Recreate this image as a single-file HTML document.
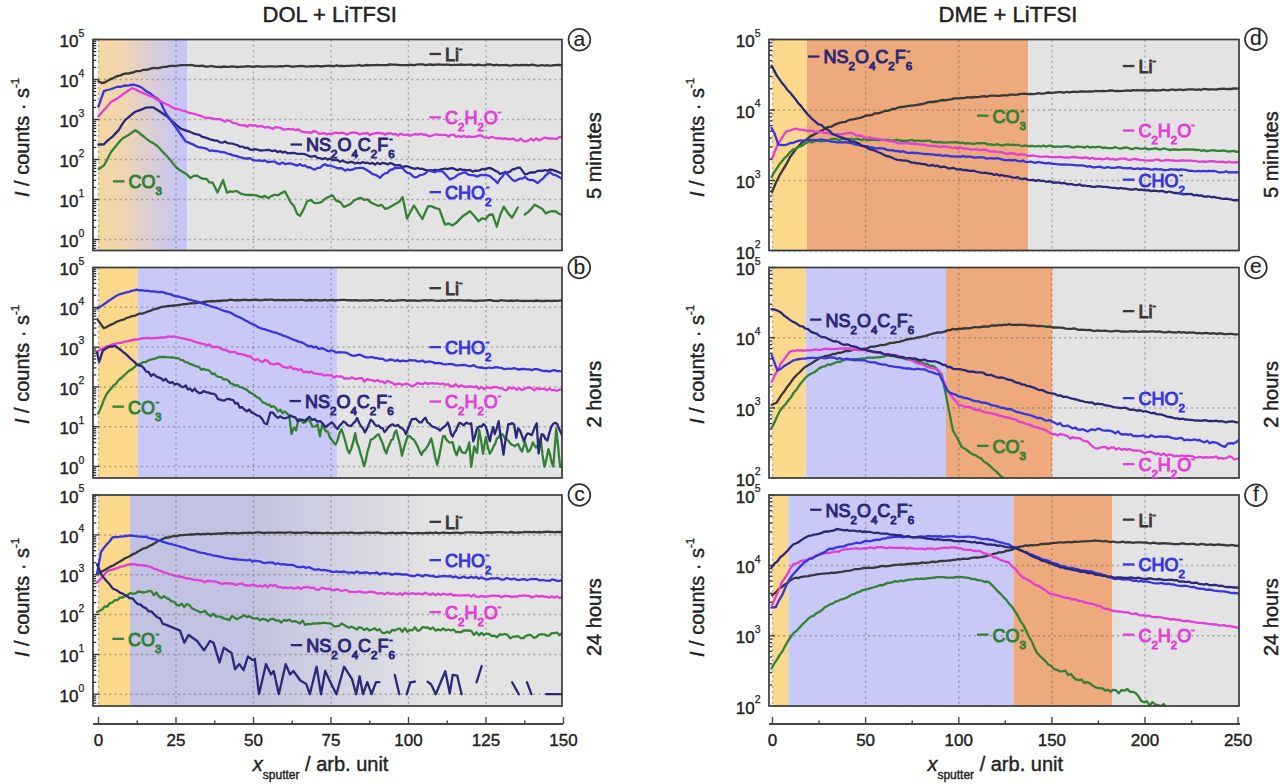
<!DOCTYPE html><html><head><meta charset="utf-8"><style>html,body{margin:0;padding:0;background:#fff;width:1280px;height:784px;overflow:hidden}svg{display:block}</style></head><body>
<svg width="1280" height="784" viewBox="0 0 1280 784" font-family='"Liberation Sans", sans-serif'>
<defs>
<clipPath id="c00"><rect x="93" y="39.5" width="469" height="211.0"/></clipPath>
<clipPath id="c01"><rect x="93" y="267.5" width="469" height="210.5"/></clipPath>
<clipPath id="c02"><rect x="93" y="495" width="469" height="211"/></clipPath>
<clipPath id="c10"><rect x="769" y="39.5" width="470" height="211.0"/></clipPath>
<clipPath id="c11"><rect x="769" y="267.5" width="470" height="210.5"/></clipPath>
<clipPath id="c12"><rect x="769" y="495" width="470" height="211"/></clipPath>
<linearGradient id="ga" x1="0" x2="1" y1="0" y2="0"><stop offset="0" stop-color="#f5d89e"/><stop offset="0.3" stop-color="#eed5b2"/><stop offset="0.6" stop-color="#dacdd6"/><stop offset="0.88" stop-color="#c9c7f2"/><stop offset="1" stop-color="#c4c4f8"/></linearGradient>
<linearGradient id="gc" x1="0" x2="1" y1="0" y2="0"><stop offset="0" stop-color="#c2c2e2"/><stop offset="1" stop-color="#e3e3e3"/></linearGradient>
</defs>
<text x="329.7" y="21.6" font-size="22" text-anchor="middle" fill="#222" stroke="#222" stroke-width="0.45">DOL + LiTFSI</text>
<text x="1007.9" y="21.6" font-size="22" text-anchor="middle" fill="#222" stroke="#222" stroke-width="0.45">DME + LiTFSI</text>
<rect x="93" y="39.5" width="469" height="211.0" fill="#fbfbfb"/>
<rect x="98.5" y="39.5" width="89" height="211.0" fill="url(#ga)"/>
<rect x="187.5" y="39.5" width="374.5" height="211.0" fill="#e3e3e3"/>
<line x1="98.5" y1="239.5" x2="562" y2="239.5" stroke="#555" stroke-opacity="0.42" stroke-width="1.5" stroke-dasharray="2.2 3.1"/>
<line x1="98.5" y1="199.5" x2="562" y2="199.5" stroke="#555" stroke-opacity="0.42" stroke-width="1.5" stroke-dasharray="2.2 3.1"/>
<line x1="98.5" y1="159.5" x2="562" y2="159.5" stroke="#555" stroke-opacity="0.42" stroke-width="1.5" stroke-dasharray="2.2 3.1"/>
<line x1="98.5" y1="119.5" x2="562" y2="119.5" stroke="#555" stroke-opacity="0.42" stroke-width="1.5" stroke-dasharray="2.2 3.1"/>
<line x1="98.5" y1="79.5" x2="562" y2="79.5" stroke="#555" stroke-opacity="0.42" stroke-width="1.5" stroke-dasharray="2.2 3.1"/>
<line x1="98.5" y1="39.5" x2="98.5" y2="250.5" stroke="#555" stroke-opacity="0.42" stroke-width="1.4" stroke-dasharray="2.2 3.1"/>
<line x1="176" y1="39.5" x2="176" y2="250.5" stroke="#555" stroke-opacity="0.42" stroke-width="1.4" stroke-dasharray="2.2 3.1"/>
<line x1="253.5" y1="39.5" x2="253.5" y2="250.5" stroke="#555" stroke-opacity="0.42" stroke-width="1.4" stroke-dasharray="2.2 3.1"/>
<line x1="331" y1="39.5" x2="331" y2="250.5" stroke="#555" stroke-opacity="0.42" stroke-width="1.4" stroke-dasharray="2.2 3.1"/>
<line x1="408.5" y1="39.5" x2="408.5" y2="250.5" stroke="#555" stroke-opacity="0.42" stroke-width="1.4" stroke-dasharray="2.2 3.1"/>
<line x1="486" y1="39.5" x2="486" y2="250.5" stroke="#555" stroke-opacity="0.42" stroke-width="1.4" stroke-dasharray="2.2 3.1"/>
<path d="M98.4 81.3 L102 83 L104.7 82.5 L107.3 81.1 L110 79.3 L112.7 78.3 L115.3 76.9 L118 75.9 L120.5 75.4 L123.1 74.1 L125.6 73.5 L128.2 73.7 L130.7 72.8 L133.3 72.5 L135.8 71.2 L138.4 71.1 L140.9 70.8 L143.5 69.7 L146 69.8 L148.5 69.5 L151.1 68.3 L153.6 68 L156.2 68.2 L158.7 68.2 L161.3 67.4 L163.8 66.9 L166.4 66.8 L168.9 66.1 L171.5 65.9 L174 65.8 L176.6 65.8 L179.2 65.4 L181.8 65.2 L184.4 65.1 L187 65.2 L189.6 65.1 L192.3 65 L194.9 65.9 L197.5 65.8 L200.2 66 L202.8 65.6 L205.5 66.6 L208.1 66.6 L210.7 66 L213.4 66.3 L216 66.8 L218.6 66.8 L221.2 67 L223.8 66.5 L226.5 66.9 L229.1 66.8 L231.7 66.4 L234.3 66.7 L236.9 67 L239.5 66.9 L242.2 66.6 L244.8 66.7 L247.4 66.1 L250 66.3 L252.6 66.9 L255.1 66.5 L257.7 66.2 L260.2 66.6 L262.8 66.7 L265.3 66.7 L267.9 66.3 L270.4 66.4 L273 66.4 L275.5 66.7 L278.1 66.4 L280.6 66.2 L283.2 66.3 L285.7 65.8 L288.3 65.8 L290.8 66.5 L293.4 66.7 L295.9 66.3 L298.5 66.1 L301 65.9 L303.6 66.2 L306.1 66.6 L308.7 66.4 L311.2 66.1 L313.8 66.4 L316.3 65.8 L318.9 66.1 L321.4 66.5 L324 66.1 L326.5 65.9 L329.1 65.7 L331.6 65.9 L334.1 66.3 L336.7 65.3 L339.2 66 L341.7 66 L344.3 66.1 L346.8 65.9 L349.3 65.9 L351.9 65.6 L354.4 65.6 L356.9 65.4 L359.5 65 L362 65.8 L364.5 65.4 L367.1 65 L369.6 65.3 L372.1 65.2 L374.7 65.1 L377.2 65 L379.7 65.2 L382.3 65.2 L384.8 65.2 L387.3 65 L389.9 64.5 L392.4 64.6 L394.9 64.6 L397.5 64.9 L400 65.2 L402.5 65.1 L405.1 65.1 L407.6 65.1 L410.2 64.6 L412.7 65.2 L415.3 65 L417.8 64.4 L420.4 64.4 L422.9 64.4 L425.5 65.1 L428 64.6 L430.5 64.5 L433.1 65 L435.6 64.7 L438.2 64.5 L440.7 64.6 L443.3 64.9 L445.8 64.6 L448.4 64.7 L450.9 65.1 L453.5 64.9 L456 64.8 L458.5 64.9 L461.1 64.5 L463.6 64.8 L466.2 64.9 L468.7 64.7 L471.3 64.6 L473.8 65.4 L476.4 65 L478.9 64.7 L481.5 65.1 L484 65.3 L486.5 64.5 L489 64.5 L491.5 64.7 L494.1 65.3 L496.6 64.7 L499.1 65.3 L501.6 65.2 L504.1 65.1 L506.6 64.8 L509.2 65.6 L511.7 65.4 L514.2 65.1 L516.7 64.8 L519.2 65.3 L521.7 65 L524.3 65.2 L526.8 65 L529.3 65.3 L531.8 64.7 L534.3 65 L536.8 65.7 L539.4 65.6 L541.9 65 L544.4 65.6 L546.9 65.1 L549.4 65.7 L551.9 65.5 L554.5 65.2 L557 65 L559.5 64.8 L562 65.3" fill="none" stroke="#383838" stroke-width="2.3" stroke-linejoin="round" stroke-linecap="round" clip-path="url(#c00)"/>
<path d="M98.4 144.5 L101.2 144.5 L104 144.3 L106.7 141.4 L109.3 139.1 L112 137.2 L115.3 133.6 L118.7 130.1 L121.8 124.9 L125 120.1 L127.5 118.1 L130 116 L132.5 113.8 L135 112 L137.8 110.8 L140.5 109.8 L143.2 108.8 L146 107.6 L149.5 107.3 L153 107.3 L155.8 109 L158.6 110.7 L161.4 112.5 L164.2 114.6 L167 116.3 L169.8 118.8 L172.6 121.7 L175.4 124 L178.2 126.5 L181 128.8 L183.6 129.6 L186.2 130.6 L188.9 131.4 L191.5 132.5 L194.1 133.7 L196.8 134.4 L199.4 134.9 L202 136.8 L204.6 137.4 L207.2 138.1 L209.8 139.3 L212.3 139.9 L214.9 140.7 L217.5 140.7 L220 142.4 L222.5 142.7 L225 141.5 L227.5 143.1 L230 143.4 L232.5 143.6 L235 144.5 L237.5 145.1 L240 146.7 L242.5 146.6 L245 148 L247.5 147.7 L250 149.5 L252.5 149.8 L255 149.1 L257.5 149.6 L260 150.5 L262.5 150.3 L265 150.1 L267.5 149.8 L270 150.2 L272.5 151.2 L275 150.3 L277.5 152.1 L280 151.1 L282.5 152.6 L285 151.7 L287.5 153.3 L290 153.1 L292.5 152.9 L295 153.2 L297.5 153.8 L300 153.9 L302.5 153.9 L305 154.2 L307.5 155.3 L310 156.6 L312.5 156.5 L315 155.9 L317.5 157.9 L320 158.2 L322.5 159.1 L325 158.1 L327.5 159.6 L330 158.6 L332.5 160.2 L335 159.8 L337.5 160.1 L340 161.8 L342.5 160.6 L345 161.8 L347.5 162.8 L350 162 L352.5 162 L355 163.5 L357.5 162.7 L360 163.4 L362.5 162.2 L365 163 L367.5 162.7 L370 163.8 L372.5 162.8 L375 164.7 L377.5 162.8 L380 164.2 L382.5 162.8 L385 163.3 L387.5 164.4 L390 163.1 L392.5 163.7 L395 165.3 L397.5 165.2 L400 165.1 L402.5 167.4 L405 166.1 L407.5 166.3 L410 167.3 L412.5 168.2 L415 168.9 L417.5 168 L420 168.9 L422.5 168.7 L425 169.9 L427.5 170.4 L430 170.2 L432.5 170.4 L435 170 L437.5 170.1 L440 169.7 L442.5 169.1 L445 168.5 L447.5 169.2 L450 168.4 L452.5 168.2 L455 169.1 L457.5 170.2 L460 168.9 L462.5 170 L465 169.9 L467.5 170.4 L470 169.8 L472.5 171.7 L475 170.5 L477.5 170.8 L480 170.1 L482.5 168.9 L485 169.6 L487.5 168.4 L490 167.9 L492.5 169.1 L495 170.6 L497.5 171.7 L500 174 L502.5 173 L505 173.2 L507.5 172.3 L510 171.6 L512.5 169.3 L515 169 L517.5 167.8 L520 167.7 L522.5 170.9 L525 174.4 L527.5 173.8 L530 172.5 L532.5 172.5 L535 172.3 L537.5 170.9 L540 170.6 L542.5 170.9 L545 170 L547.5 170.8 L550 169.5 L553 170.1 L556 171.2 L559 172.3 L562 173.8" fill="none" stroke="#2a2878" stroke-width="2.3" stroke-linejoin="round" stroke-linecap="round" clip-path="url(#c00)"/>
<path d="M98.4 106.6 L101.2 98.6 L104 91 L106.8 90.1 L109.6 89.5 L112.4 88.7 L115.2 87.5 L118 86.7 L120.6 86.8 L123.2 86 L125.8 85.5 L128.3 85.6 L130.9 84.8 L133.5 84.6 L136.2 85.3 L139 86.3 L141.8 87.7 L144.5 89.8 L147.2 91.7 L150 93.2 L152.5 95.3 L155 97.2 L157.5 98.8 L160 101.2 L163 107.4 L166 113.5 L168.7 117.1 L171.3 121.3 L174 124.8 L176.9 129 L179.8 133.2 L182.7 137.2 L185.6 141.5 L188.3 142.3 L190.9 143.7 L193.6 144.7 L196.3 146.2 L198.9 147.3 L201.6 147.5 L204.3 148.1 L206.9 148.8 L209.6 150.8 L212.2 150.3 L214.9 151.2 L217.5 151 L220.2 152 L222.8 152.2 L225.5 152.7 L228.2 153.8 L230.9 154.4 L233.7 155.7 L236.4 155.9 L239.1 157.1 L241.8 157.5 L244.6 158.5 L247.3 158.5 L250 158.1 L252.5 159.8 L255 160.4 L257.5 160.7 L260 160.4 L262.5 161.1 L265 160.4 L267.5 162 L270 161.9 L272.5 161.7 L275 161.6 L277.5 163.5 L280 164 L282.5 162.4 L285 164.1 L287.5 163.6 L290 163.3 L292.5 163.8 L295 165 L297.5 165.5 L300 164.1 L302.5 165.9 L305 165.3 L307.5 167.3 L310 167.2 L312.5 168.9 L315 169.7 L317.5 167.8 L320 167.9 L322.5 165.6 L325 164.2 L327.5 165.8 L330 165.3 L332.5 166.3 L335 167.3 L337.5 168.3 L340 168.1 L342.5 168.5 L345 170.7 L347.5 169.3 L350 170.2 L352.5 169.7 L355 168.3 L357.5 168.1 L360 167.9 L362.5 167.8 L365 169.1 L367.5 170.5 L370 172 L372.5 174.1 L375 174.7 L377.5 175.9 L380 177.9 L382.5 175.1 L385 173.4 L387.5 172.8 L390 170 L392.5 169.5 L395 167.8 L397.5 168 L400 167.7 L402.5 168.2 L405 171.1 L407.5 172.8 L410 173.3 L412.5 176.1 L415 177.4 L417.5 176.8 L420 175.1 L422.5 174.8 L425 173.8 L427.5 171.3 L430 170.4 L432.5 171.6 L435 172.2 L437.5 170.8 L440 171.2 L442.5 171.4 L445 173.8 L447.5 176.8 L450 179.6 L452.5 178.2 L455 177.2 L457.5 175.1 L460 173.8 L462.5 173 L465 172.3 L467.5 174.1 L470 175.2 L472.5 175.1 L475 175.7 L477.5 176.6 L480 175.2 L482.5 174.9 L485 175.1 L487.5 175.4 L490 176.1 L492.5 178.4 L495 180.3 L497.5 183.2 L500 179 L502.5 176.5 L505 171.8 L507.5 174.4 L510 177.2 L512.5 179.8 L515 181.2 L517.5 179.8 L520 178.6 L522.5 178.5 L525 176.9 L527.5 179.1 L530 180.2 L532.5 179.9 L535 181.1 L537.5 183.1 L540 180.8 L542.5 179.1 L545 176.2 L547.5 173.8 L550 172.1 L553 174.7 L556 175.2 L559 176.9 L562 178.8" fill="none" stroke="#3636dc" stroke-width="2.3" stroke-linejoin="round" stroke-linecap="round" clip-path="url(#c00)"/>
<path d="M98.4 116.4 L100.9 113.4 L103.4 110.6 L106 107.9 L108.5 105 L111 102.1 L113.6 100.6 L116.2 99.1 L118.9 97.3 L121.5 95.5 L124.1 93.4 L126.8 91.8 L129.4 89.9 L132 88.1 L134.8 89.2 L137.6 90.4 L140.4 92 L143.2 93.1 L146 94.2 L148.8 95.6 L151.6 96.6 L154.4 98.1 L157.2 99.7 L160 101.1 L162.8 102.6 L165.6 104 L168.4 105 L171.2 106.7 L174 108.1 L176.8 108.8 L179.6 109.5 L182.4 110.5 L185.2 111.1 L188 112.5 L190.6 113.1 L193.2 113.6 L195.9 114.2 L198.5 115.2 L201.1 115.9 L203.8 117.3 L206.4 117.9 L209 117.8 L211.6 118.1 L214.2 119.1 L216.9 119.2 L219.5 119.1 L222.1 120 L224.8 121.7 L227.4 120.4 L230 120.9 L232.9 123.2 L235.8 123.2 L238.7 124.7 L241.6 125.4 L244.4 125.1 L247.2 126.7 L250 124.8 L252.6 125.6 L255.1 125.3 L257.7 126.6 L260.2 126 L262.8 126.5 L265.3 127.7 L267.9 126.9 L270.4 127.8 L273 128.9 L275.5 127.2 L278.1 127.4 L280.6 128 L283.2 129.6 L285.7 129.5 L288.3 128.9 L290.8 129.3 L293.4 129.2 L295.9 130.2 L298.5 129.4 L301 131.3 L303.6 132 L306.1 132.4 L308.7 132.2 L311.2 133 L313.8 131 L316.3 131.9 L318.9 133.8 L321.4 133.6 L324 133 L326.5 134.3 L329.1 133.6 L331.6 134.1 L334.2 132.9 L336.7 132.7 L339.3 133.3 L341.8 132.6 L344.4 133.3 L346.9 134.7 L349.5 133.2 L352 132.5 L354.5 132.6 L357.1 133 L359.6 134.5 L362.2 133.5 L364.7 133.4 L367.3 133 L369.8 135.1 L372.4 133.8 L374.9 133.3 L377.5 133 L380 133.1 L382.5 133.4 L385.1 134.6 L387.6 133.4 L390.2 133.2 L392.7 134.3 L395.3 133.8 L397.8 135.6 L400.4 133.6 L402.9 134.6 L405.5 135.2 L408 134.4 L410.5 135.8 L413.1 134.7 L415.6 134.2 L418.1 134.6 L420.7 133.8 L423.2 134.8 L425.7 134.4 L428.3 136 L430.8 136 L433.3 135.2 L435.9 134.2 L438.4 134.8 L440.9 134.8 L443.5 134.8 L446 134.9 L448.5 136.5 L451.1 134.8 L453.6 134.7 L456.1 136.8 L458.7 136 L461.2 137.1 L463.7 135.8 L466.3 137 L468.8 136.5 L471.3 136.9 L473.9 136.8 L476.4 136.3 L478.9 135.4 L481.5 135.7 L484 137.4 L486.6 137.7 L489.2 138 L491.9 136.8 L494.5 137.8 L497.1 138.4 L499.8 138.2 L502.4 138.9 L505 138.4 L507.6 139 L510.2 139.3 L512.9 138.5 L515.5 140.3 L518.1 140.6 L520.8 138.7 L523.4 141.1 L526 141.3 L528.6 140.4 L531.1 138.7 L533.7 140.6 L536.3 138.5 L538.9 140.3 L541.4 139.4 L544 137.7 L546.6 137.8 L549.1 138.7 L551.7 138.4 L554.3 138.6 L556.9 138.8 L559.4 136.9 L562 137.4" fill="none" stroke="#e23ed8" stroke-width="2.3" stroke-linejoin="round" stroke-linecap="round" clip-path="url(#c00)"/>
<path d="M98.8 169 L104.3 165.1 L107.5 158.8 L110.7 152.5 L113.9 148.6 L117.1 144.5 L120.3 140.7 L123.3 138 L126.3 136.2 L129.4 134.4 L132.4 132.2 L135.4 130.2 L138.4 132.2 L141.4 134.8 L144.4 137 L147.4 139.6 L150.6 141.8 L153.8 143.6 L157 145.8 L160.2 149 L163.3 152.6 L166.5 155.7 L170 159.5 L173.4 164.1 L176.9 168 L180.3 170.5 L183.7 172.4 L187 174.5 L190.4 178.1 L193.6 175.9 L196.8 175.6 L200 177.6 L203.2 178.9 L206.3 178.8 L209.5 182.4 L212.7 182.7 L217.5 192.5 L223 180.1 L227 192.7 L230.2 191.4 L233.4 191.7 L236.6 191 L241.4 193.9 L245.7 194.8 L250 195 L253 195.2 L256 195.3 L259 196.3 L262 197.4 L265 195.9 L268 198.2 L271.4 196.1 L274.8 194.8 L278.1 195.2 L281.5 193.1 L284.9 191.4 L287.9 197 L290.9 202.7 L294 205.9 L297 213.7 L300 215.9 L303.5 209.6 L307 201.5 L310.8 200 L314.7 203.2 L318.5 202.9 L322 201.8 L325.6 198.3 L329.1 196.7 L332.6 195.3 L336.3 200.9 L340.1 201.9 L343.8 206.8 L347.2 205.6 L350.5 204 L353.9 200.6 L357.2 198.9 L360.6 197.8 L364.1 199.9 L367.6 199.3 L371.1 202.6 L374.6 204.2 L378.1 205.8 L381.6 204.8 L385.2 208.9 L388.7 207.8 L392.2 205.7 L395.7 203.7 L399.2 201.8 L402.7 197.2 L407 218.6 L410.5 211.8 L414 205.4 L418.2 212.5 L422.4 219 L428 206.2 L431.8 206.4 L435.5 208.1 L439.3 209 L445 224.7 L448.7 223.4 L452.3 225.4 L456 223.1 L459.5 219.5 L463 215.9 L466.5 213.8 L470 211.3 L474.2 215.8 L478.5 221.3 L482 218.4 L485.6 219.2 L489.1 214.8 L492.6 214.5 L496.8 226.7 L500.3 214.7 L503.8 206.7 L507.9 213 L512 217.7 L517.8 207.5" fill="none" stroke="#348036" stroke-width="2.3" stroke-linejoin="round" stroke-linecap="round" clip-path="url(#c00)"/>
<path d="M524.8 214.5 L528.1 212.1 L531.3 208.9 L534.6 204.7 L538.4 206.8 L542.1 208.7 L545.9 213.5 L549.4 211.6 L552.9 211.1 L555.9 211.3 L559 213.9 L562 214.5" fill="none" stroke="#348036" stroke-width="2.3" stroke-linejoin="round" stroke-linecap="round" clip-path="url(#c00)"/>
<line x1="93" y1="248.4" x2="96.2" y2="248.4" stroke="#333" stroke-width="1.3"/>
<line x1="93" y1="245.7" x2="96.2" y2="245.7" stroke="#333" stroke-width="1.3"/>
<line x1="93" y1="243.4" x2="96.2" y2="243.4" stroke="#333" stroke-width="1.3"/>
<line x1="93" y1="241.3" x2="96.2" y2="241.3" stroke="#333" stroke-width="1.3"/>
<line x1="93" y1="239.5" x2="99" y2="239.5" stroke="#333" stroke-width="1.3"/>
<line x1="93" y1="227.5" x2="96.2" y2="227.5" stroke="#333" stroke-width="1.3"/>
<line x1="93" y1="220.4" x2="96.2" y2="220.4" stroke="#333" stroke-width="1.3"/>
<line x1="93" y1="215.4" x2="96.2" y2="215.4" stroke="#333" stroke-width="1.3"/>
<line x1="93" y1="211.5" x2="96.2" y2="211.5" stroke="#333" stroke-width="1.3"/>
<line x1="93" y1="208.4" x2="96.2" y2="208.4" stroke="#333" stroke-width="1.3"/>
<line x1="93" y1="205.7" x2="96.2" y2="205.7" stroke="#333" stroke-width="1.3"/>
<line x1="93" y1="203.4" x2="96.2" y2="203.4" stroke="#333" stroke-width="1.3"/>
<line x1="93" y1="201.3" x2="96.2" y2="201.3" stroke="#333" stroke-width="1.3"/>
<line x1="93" y1="199.5" x2="99" y2="199.5" stroke="#333" stroke-width="1.3"/>
<line x1="93" y1="187.5" x2="96.2" y2="187.5" stroke="#333" stroke-width="1.3"/>
<line x1="93" y1="180.4" x2="96.2" y2="180.4" stroke="#333" stroke-width="1.3"/>
<line x1="93" y1="175.4" x2="96.2" y2="175.4" stroke="#333" stroke-width="1.3"/>
<line x1="93" y1="171.5" x2="96.2" y2="171.5" stroke="#333" stroke-width="1.3"/>
<line x1="93" y1="168.4" x2="96.2" y2="168.4" stroke="#333" stroke-width="1.3"/>
<line x1="93" y1="165.7" x2="96.2" y2="165.7" stroke="#333" stroke-width="1.3"/>
<line x1="93" y1="163.4" x2="96.2" y2="163.4" stroke="#333" stroke-width="1.3"/>
<line x1="93" y1="161.3" x2="96.2" y2="161.3" stroke="#333" stroke-width="1.3"/>
<line x1="93" y1="159.5" x2="99" y2="159.5" stroke="#333" stroke-width="1.3"/>
<line x1="93" y1="147.5" x2="96.2" y2="147.5" stroke="#333" stroke-width="1.3"/>
<line x1="93" y1="140.4" x2="96.2" y2="140.4" stroke="#333" stroke-width="1.3"/>
<line x1="93" y1="135.4" x2="96.2" y2="135.4" stroke="#333" stroke-width="1.3"/>
<line x1="93" y1="131.5" x2="96.2" y2="131.5" stroke="#333" stroke-width="1.3"/>
<line x1="93" y1="128.4" x2="96.2" y2="128.4" stroke="#333" stroke-width="1.3"/>
<line x1="93" y1="125.7" x2="96.2" y2="125.7" stroke="#333" stroke-width="1.3"/>
<line x1="93" y1="123.4" x2="96.2" y2="123.4" stroke="#333" stroke-width="1.3"/>
<line x1="93" y1="121.3" x2="96.2" y2="121.3" stroke="#333" stroke-width="1.3"/>
<line x1="93" y1="119.5" x2="99" y2="119.5" stroke="#333" stroke-width="1.3"/>
<line x1="93" y1="107.5" x2="96.2" y2="107.5" stroke="#333" stroke-width="1.3"/>
<line x1="93" y1="100.4" x2="96.2" y2="100.4" stroke="#333" stroke-width="1.3"/>
<line x1="93" y1="95.4" x2="96.2" y2="95.4" stroke="#333" stroke-width="1.3"/>
<line x1="93" y1="91.5" x2="96.2" y2="91.5" stroke="#333" stroke-width="1.3"/>
<line x1="93" y1="88.4" x2="96.2" y2="88.4" stroke="#333" stroke-width="1.3"/>
<line x1="93" y1="85.7" x2="96.2" y2="85.7" stroke="#333" stroke-width="1.3"/>
<line x1="93" y1="83.4" x2="96.2" y2="83.4" stroke="#333" stroke-width="1.3"/>
<line x1="93" y1="81.3" x2="96.2" y2="81.3" stroke="#333" stroke-width="1.3"/>
<line x1="93" y1="79.5" x2="99" y2="79.5" stroke="#333" stroke-width="1.3"/>
<line x1="93" y1="67.5" x2="96.2" y2="67.5" stroke="#333" stroke-width="1.3"/>
<line x1="93" y1="60.4" x2="96.2" y2="60.4" stroke="#333" stroke-width="1.3"/>
<line x1="93" y1="55.4" x2="96.2" y2="55.4" stroke="#333" stroke-width="1.3"/>
<line x1="93" y1="51.5" x2="96.2" y2="51.5" stroke="#333" stroke-width="1.3"/>
<line x1="93" y1="48.4" x2="96.2" y2="48.4" stroke="#333" stroke-width="1.3"/>
<line x1="93" y1="45.7" x2="96.2" y2="45.7" stroke="#333" stroke-width="1.3"/>
<line x1="93" y1="43.4" x2="96.2" y2="43.4" stroke="#333" stroke-width="1.3"/>
<line x1="93" y1="41.3" x2="96.2" y2="41.3" stroke="#333" stroke-width="1.3"/>
<line x1="93" y1="39.5" x2="99" y2="39.5" stroke="#333" stroke-width="1.3"/>
<rect x="93" y="39.5" width="469" height="211.0" fill="none" stroke="#3a3a3a" stroke-width="1.7"/>
<text x="59.6" y="247.1" font-size="17" fill="#222" stroke="#222" stroke-width="0.4">10</text>
<text x="78.6" y="236.7" font-size="10.5" fill="#222" stroke="#222" stroke-width="0.25">0</text>
<text x="59.6" y="207.1" font-size="17" fill="#222" stroke="#222" stroke-width="0.4">10</text>
<text x="78.6" y="196.7" font-size="10.5" fill="#222" stroke="#222" stroke-width="0.25">1</text>
<text x="59.6" y="167.1" font-size="17" fill="#222" stroke="#222" stroke-width="0.4">10</text>
<text x="78.6" y="156.7" font-size="10.5" fill="#222" stroke="#222" stroke-width="0.25">2</text>
<text x="59.6" y="127.1" font-size="17" fill="#222" stroke="#222" stroke-width="0.4">10</text>
<text x="78.6" y="116.7" font-size="10.5" fill="#222" stroke="#222" stroke-width="0.25">3</text>
<text x="59.6" y="87.1" font-size="17" fill="#222" stroke="#222" stroke-width="0.4">10</text>
<text x="78.6" y="76.7" font-size="10.5" fill="#222" stroke="#222" stroke-width="0.25">4</text>
<text x="59.6" y="47.1" font-size="17" fill="#222" stroke="#222" stroke-width="0.4">10</text>
<text x="78.6" y="36.7" font-size="10.5" fill="#222" stroke="#222" stroke-width="0.25">5</text>
<rect x="429.5" y="52.8" width="11.5" height="2.3" fill="#383838"/>
<text x="445" y="60.8" font-size="18" font-weight="normal" fill="#383838" stroke="#383838" stroke-width="1.0"><tspan font-size="18" dy="0">Li</tspan><tspan font-size="10" dy="-9">-</tspan></text>
<rect x="429.5" y="116.2" width="11.5" height="2.3" fill="#e23ed8"/>
<text x="445" y="124.2" font-size="18" font-weight="normal" fill="#e23ed8" stroke="#e23ed8" stroke-width="1.0"><tspan font-size="18" dy="0">C</tspan><tspan font-size="11.5" dy="7">2</tspan><tspan font-size="18" dy="-7">H</tspan><tspan font-size="11.5" dy="7">2</tspan><tspan font-size="18" dy="-7">O</tspan><tspan font-size="10" dy="-9">-</tspan></text>
<rect x="290.5" y="143.4" width="11.5" height="2.3" fill="#2a2878"/>
<text x="306" y="151.4" font-size="18" font-weight="normal" fill="#2a2878" stroke="#2a2878" stroke-width="1.0"><tspan font-size="18" dy="0">NS</tspan><tspan font-size="11.5" dy="7">2</tspan><tspan font-size="18" dy="-7">O</tspan><tspan font-size="11.5" dy="7">4</tspan><tspan font-size="18" dy="-7">C</tspan><tspan font-size="11.5" dy="7">2</tspan><tspan font-size="18" dy="-7">F</tspan><tspan font-size="11.5" dy="7">6</tspan><tspan font-size="10" dy="-16" dx="-5.5">-</tspan></text>
<rect x="429.5" y="191" width="11.5" height="2.3" fill="#3636dc"/>
<text x="445" y="199" font-size="18" font-weight="normal" fill="#3636dc" stroke="#3636dc" stroke-width="1.0"><tspan font-size="18" dy="0">CHO</tspan><tspan font-size="11.5" dy="7">2</tspan><tspan font-size="10" dy="-16" dx="-5.5">-</tspan></text>
<rect x="113" y="180.2" width="11.5" height="2.3" fill="#348036"/>
<text x="128.5" y="188.2" font-size="18" font-weight="normal" fill="#348036" stroke="#348036" stroke-width="1.0"><tspan font-size="18" dy="0">CO</tspan><tspan font-size="11.5" dy="7">3</tspan><tspan font-size="10" dy="-16" dx="-5.5">-</tspan></text>
<rect x="93" y="267.5" width="469" height="210.5" fill="#fbfbfb"/>
<rect x="98.5" y="267.5" width="39.2" height="210.5" fill="#fcd88c"/>
<rect x="137.7" y="267.5" width="199.3" height="210.5" fill="#c9c9f8"/>
<rect x="337" y="267.5" width="225" height="210.5" fill="#e3e3e3"/>
<line x1="98.5" y1="466.5" x2="562" y2="466.5" stroke="#555" stroke-opacity="0.42" stroke-width="1.5" stroke-dasharray="2.2 3.1"/>
<line x1="98.5" y1="426.7" x2="562" y2="426.7" stroke="#555" stroke-opacity="0.42" stroke-width="1.5" stroke-dasharray="2.2 3.1"/>
<line x1="98.5" y1="386.9" x2="562" y2="386.9" stroke="#555" stroke-opacity="0.42" stroke-width="1.5" stroke-dasharray="2.2 3.1"/>
<line x1="98.5" y1="347.1" x2="562" y2="347.1" stroke="#555" stroke-opacity="0.42" stroke-width="1.5" stroke-dasharray="2.2 3.1"/>
<line x1="98.5" y1="307.3" x2="562" y2="307.3" stroke="#555" stroke-opacity="0.42" stroke-width="1.5" stroke-dasharray="2.2 3.1"/>
<line x1="98.5" y1="267.5" x2="98.5" y2="478" stroke="#555" stroke-opacity="0.42" stroke-width="1.4" stroke-dasharray="2.2 3.1"/>
<line x1="176" y1="267.5" x2="176" y2="478" stroke="#555" stroke-opacity="0.42" stroke-width="1.4" stroke-dasharray="2.2 3.1"/>
<line x1="253.5" y1="267.5" x2="253.5" y2="478" stroke="#555" stroke-opacity="0.42" stroke-width="1.4" stroke-dasharray="2.2 3.1"/>
<line x1="331" y1="267.5" x2="331" y2="478" stroke="#555" stroke-opacity="0.42" stroke-width="1.4" stroke-dasharray="2.2 3.1"/>
<line x1="408.5" y1="267.5" x2="408.5" y2="478" stroke="#555" stroke-opacity="0.42" stroke-width="1.4" stroke-dasharray="2.2 3.1"/>
<line x1="486" y1="267.5" x2="486" y2="478" stroke="#555" stroke-opacity="0.42" stroke-width="1.4" stroke-dasharray="2.2 3.1"/>
<path d="M97.4 319.3 L100.5 323.7 L103.6 328.2 L106.1 327.3 L108.7 325.8 L111.2 324.6 L113.7 323.5 L116.3 321.9 L118.8 321 L121.3 320.2 L123.9 319.5 L126.4 318 L129 317.3 L131.5 316.2 L134.1 315.9 L136.6 315 L139.3 313.6 L142 313.6 L144.6 312.8 L147.3 311.7 L150 310.9 L152.7 309.7 L155.4 308.8 L158 308.4 L160.7 307.2 L163.4 306.6 L165.9 306.3 L168.5 305.8 L171 305.8 L173.6 305.5 L176.1 305.5 L178.7 304.9 L181.2 304.7 L183.7 304.2 L186.3 304 L188.8 303.6 L191.4 303.1 L193.9 303.3 L196.5 303 L199 302.6 L201.6 302.3 L204.2 301.8 L206.8 301.5 L209.3 301.4 L211.9 301 L214.5 301.4 L217.1 300.9 L219.7 301 L222.2 300.5 L224.8 300.7 L227.4 300.5 L230 299.6 L232.5 299.8 L235 300.3 L237.5 300 L240 300.4 L242.5 299.9 L245 299.7 L247.5 300.1 L250 300.2 L252.5 299.8 L255 299.7 L257.5 299.9 L260 300.4 L262.5 300.2 L265 299.7 L267.5 299.8 L270 299.7 L272.5 299.7 L275 300.3 L277.5 299.8 L280 300.1 L282.5 300 L285 299.8 L287.5 300.3 L290 299.8 L292.5 300.2 L295 299.8 L297.5 300.1 L300 299.9 L302.5 299.9 L305 300.5 L307.5 300.4 L310 300 L312.5 300.5 L315 299.9 L317.5 300.1 L320 300.5 L322.5 300.3 L325 299.9 L327.5 300.6 L330 300 L332.5 300 L335 300.5 L337.5 300.1 L340 300.1 L342.5 299.9 L345 299.9 L347.5 300.3 L350 300.1 L352.5 300.4 L355 300.2 L357.5 300.3 L360 300.7 L362.5 300.3 L365 300.4 L367.5 300.6 L370 300.1 L372.5 300.1 L375 300.7 L377.5 300.6 L380 300.2 L382.5 300.1 L385 300.6 L387.5 300.8 L390 300.2 L392.5 300.8 L395 300.7 L397.5 300.5 L400 300.4 L402.5 300.1 L405 300.1 L407.5 300.8 L410 300.3 L412.5 300.6 L415 300.3 L417.5 300.8 L420 300.6 L422.5 300.3 L425.1 300.2 L427.6 300.7 L430.1 300.2 L432.7 300.3 L435.2 300.6 L437.8 300.8 L440.3 300.6 L442.8 300.4 L445.4 300.9 L447.9 300.3 L450.4 300.2 L453 300.4 L455.5 300.5 L458 300.2 L460.6 300.3 L463.1 300.5 L465.6 300.6 L468.2 300.3 L470.7 300.5 L473.2 300.9 L475.8 301 L478.3 300.7 L480.9 300.7 L483.4 300.7 L485.9 300.3 L488.5 300.2 L491 300.2 L493.5 300.9 L496.1 300.8 L498.6 301 L501.1 300.2 L503.7 300.7 L506.2 300.6 L508.8 300.8 L511.3 300.5 L513.8 301 L516.4 300.3 L518.9 300.7 L521.4 300.8 L524 301 L526.5 300.8 L529 300.8 L531.6 300.9 L534.1 301 L536.6 300.5 L539.2 300.8 L541.7 301 L544.2 301 L546.8 300.6 L549.3 300.9 L551.9 301 L554.4 300.7 L556.9 300.8 L559.5 300.6 L562 300.7" fill="none" stroke="#383838" stroke-width="2.3" stroke-linejoin="round" stroke-linecap="round" clip-path="url(#c01)"/>
<path d="M97.4 308.6 L100.1 306.8 L102.7 305.1 L105.4 303.3 L108.1 301.2 L110.8 299.4 L113.4 297.8 L116.1 295.9 L118.8 294.5 L121.3 293.8 L123.9 293.1 L126.4 292.4 L129 291.8 L131.5 290.9 L134.1 290.4 L136.6 289.6 L139.3 290.3 L142 290.1 L144.6 290.8 L147.3 290.6 L150 291.3 L152.7 291.3 L155.4 291.6 L158 292.2 L160.7 291.9 L163.4 292.2 L165.9 293.4 L168.5 293.9 L171 294.4 L173.6 295.6 L176.1 296.3 L178.7 296.5 L181.2 297.4 L183.7 297.9 L186.3 298.7 L188.8 299.6 L191.4 300 L193.9 301 L196.5 301.3 L199 302.1 L201.6 303.3 L204.2 303.9 L206.8 304.8 L209.3 305.8 L211.9 306.5 L214.5 307.3 L217.1 308 L219.7 309.2 L222.2 310.2 L224.8 311.1 L227.4 311.7 L230 312.4 L232.5 313.7 L235 315.2 L237.5 316.5 L240 317.4 L242.5 318.8 L245 320.2 L247.5 321.5 L250 323 L252.5 324.1 L255 325.1 L257.5 326.9 L260 328 L262.6 328.8 L265.1 329.4 L267.7 330.3 L270.3 331.1 L272.9 332.1 L275.4 332.5 L278 333.5 L280.5 334.3 L283.1 335.7 L285.6 336.3 L288.2 337.4 L290.7 338.5 L293.3 339.7 L295.8 340.4 L298.4 341.6 L300.9 342.1 L303.5 343.2 L306 344.7 L308.5 346.3 L311.1 346 L313.6 347.5 L316.2 346.6 L318.7 348.8 L321.3 348.3 L323.8 348.6 L326.4 350.4 L328.9 351.3 L331.5 350.2 L334 351.3 L336.5 352.7 L339.1 352.2 L341.6 352.4 L344.2 352.3 L346.7 352.8 L349.3 354.3 L351.8 355.4 L354.4 355.9 L356.9 355.2 L359.5 354.7 L362 355.6 L364.5 357 L367.1 357.4 L369.6 357.4 L372.2 357 L374.7 358 L377.3 358.2 L379.8 358.9 L382.4 358.6 L384.9 360.3 L387.5 360.6 L390 359.5 L392.5 359.8 L395 361.1 L397.5 360 L400 361.4 L402.5 360.6 L405 361 L407.5 361.1 L410 360.2 L412.5 360.4 L415 360.4 L417.5 361.3 L420 361.4 L422.6 360.5 L425.1 362.3 L427.7 361.6 L430.2 361.5 L432.8 362.1 L435.4 363.4 L437.9 362.9 L440.5 363.2 L443 364.1 L445.6 364.4 L448.2 364.2 L450.7 363.8 L453.3 364.4 L455.8 365.3 L458.4 365.3 L461 365.1 L463.5 364.9 L466.1 365.2 L468.6 366.2 L471.2 366.1 L473.8 365.2 L476.3 366.9 L478.9 367.5 L481.4 367.5 L484 368 L486.5 368.2 L489 367.5 L491.5 368.2 L494.1 367.5 L496.6 367.1 L499.1 367.7 L501.6 367.8 L504.1 369.2 L506.6 368.8 L509.2 368.6 L511.7 368.9 L514.2 368.1 L516.7 369 L519.2 369.5 L521.7 369 L524.3 368.9 L526.8 369.3 L529.3 369.3 L531.8 370.1 L534.3 369.2 L536.8 369.2 L539.4 369.8 L541.9 370.7 L544.4 371 L546.9 370.9 L549.4 371.6 L551.9 370.6 L554.5 370.1 L557 371.1 L559.5 371.2 L562 371.4" fill="none" stroke="#3636dc" stroke-width="2.3" stroke-linejoin="round" stroke-linecap="round" clip-path="url(#c01)"/>
<path d="M97 351.8 L100.3 349.6 L103.5 348.1 L106.8 346.2 L109.4 345.8 L111.9 344.5 L114.5 344 L117.1 343.3 L119.7 342.8 L122.2 342.7 L124.8 341.5 L127.4 341.4 L130 340.5 L132.5 340 L135.1 339.5 L137.7 339.3 L140.3 338.9 L142.9 338.1 L145.5 338.2 L148.1 337.9 L150.7 338.4 L153.3 338.2 L155.8 338 L158.4 337.8 L161 337.5 L163.6 337.5 L166.2 337.2 L168.8 336.4 L171.4 336.8 L174 336.3 L176.5 337.2 L179.1 337.6 L181.6 338.1 L184.2 338.7 L186.7 339.4 L189.3 339.9 L191.8 340.4 L194.4 341.7 L196.9 342.3 L199.5 343.1 L202 343.9 L204.5 344.2 L207.1 345.6 L209.6 344.4 L212.2 347 L214.7 347 L217.3 346.9 L219.8 347.8 L222.4 349.6 L224.9 349.5 L227.5 350.9 L230 352.1 L232.5 352.2 L235 352 L237.5 353.9 L240 353.8 L242.5 354.5 L245 355 L247.5 356.3 L250 356 L252.5 358.6 L255 360.3 L257.5 359.1 L260 360.9 L262.6 362.2 L265.1 359.9 L267.7 360.9 L270.3 363.6 L272.9 364.3 L275.4 364.2 L278 363.3 L280.5 364.8 L283.1 366.9 L285.6 367.5 L288.2 367.9 L290.7 366.6 L293.3 369.3 L295.8 368.5 L298.4 370.2 L300.9 369 L303.5 372.3 L306 371.7 L308.5 372.6 L311.1 371.5 L313.6 373.3 L316.2 373.7 L318.7 374.2 L321.3 374 L323.8 375.7 L326.4 375 L328.9 375.3 L331.5 375.4 L334 377.6 L336.5 376 L339.1 376.6 L341.6 376.4 L344.2 378.5 L346.7 378.5 L349.3 378.7 L351.8 377.3 L354.4 378.8 L356.9 378.8 L359.5 378.2 L362 378.2 L364.5 381.6 L367.1 379.1 L369.6 379.9 L372.2 380.1 L374.7 381.4 L377.3 380 L379.8 381.5 L382.4 381.4 L384.9 383.2 L387.5 380.8 L390 382.1 L392.5 382.9 L395 384.8 L397.5 383.7 L400 383.9 L402.5 384.9 L405 384 L407.5 383.6 L410 385.4 L412.5 386.1 L415 385 L417.5 382.8 L420 383.6 L422.6 384.3 L425.1 382.6 L427.7 383.9 L430.2 383.4 L432.8 383.2 L435.4 383.6 L437.9 383.5 L440.5 384.2 L443 383.4 L445.6 384.8 L448.2 384 L450.7 386.3 L453.3 386 L455.8 384.3 L458.4 387 L461 385.3 L463.5 386.5 L466.1 386.9 L468.6 386.4 L471.2 386.5 L473.8 387.2 L476.3 386.4 L478.9 388.9 L481.4 386.8 L484 389.2 L486.5 387.3 L489 387.7 L491.5 388 L494.1 386.9 L496.6 387.2 L499.1 388 L501.6 388.3 L504.1 389.8 L506.6 390.2 L509.2 387.2 L511.7 388.8 L514.2 387.6 L516.7 389.8 L519.2 388.3 L521.7 390.1 L524.3 389.1 L526.8 387.8 L529.3 387.4 L531.8 388.3 L534.3 390.3 L536.8 388 L539.4 389.1 L541.9 388.8 L544.4 388.8 L546.9 390.3 L549.4 388.5 L551.9 390.1 L554.5 390 L557 390.9 L559.5 389.6 L562 389.6" fill="none" stroke="#e23ed8" stroke-width="2.3" stroke-linejoin="round" stroke-linecap="round" clip-path="url(#c01)"/>
<path d="M98.2 413.6 L100.9 407.6 L103.6 400.6 L106.3 394.5 L108.8 391.2 L111.3 388.5 L113.8 385.3 L116.3 383.3 L118.8 379.8 L121 378.2 L123.2 376.3 L125.5 374 L127.7 372 L129.9 370.1 L132.2 369.1 L134.4 367.2 L136.6 364.9 L138.9 364.2 L141.3 363.3 L143.6 362.1 L145.9 362 L148.2 360.5 L150.6 359.7 L152.9 359.2 L155.2 358.7 L157.6 357.4 L159.9 357 L162.2 357 L164.5 357 L166.8 357.2 L169.1 357.3 L171.4 357.5 L173.7 357.5 L176 358.1 L178.3 358.2 L180.6 359.9 L182.9 360.2 L185.2 362.1 L187.5 362.4 L189.8 364 L192.1 364.4 L194.4 365.7 L196.7 366.3 L199 367 L201.2 369.9 L203.4 368.8 L205.7 369.9 L207.9 369.9 L210.1 371.4 L212.3 374.3 L214.5 373.4 L216.7 376.4 L219 376.9 L221.2 377.2 L223.4 379.3 L225.8 379.3 L228.1 380.2 L230.4 383.3 L232.8 384 L235.2 385.7 L237.5 385 L239.8 387 L242.2 387.7 L244.6 388.8 L246.9 389.9 L249.2 392.1 L251.6 393.2 L254.3 394.8 L257.1 397.3 L259.8 398.6 L262.5 402.1 L264.7 403.1 L266.9 404.3 L269.1 404.6 L271.4 406.8 L273.6 406.2 L275.8 408.1 L278 411.3 L280.3 409.6 L282.5 413.1 L284.8 411.5 L287 413.4 L289.3 415.6 L291.5 434 L293.8 427.6 L296.1 430.4 L298.5 419.1 L300.8 419.4 L303.1 423 L305.5 422.2 L307.8 419.1 L310.2 421.5 L312.5 426.6 L315 426.5 L317.5 424.3 L320 436.4 L321.9 425.4 L323.9 427.7 L325.9 431.4 L327.8 431.5 L329.8 437.3 L331.7 439.8 L333.7 442.4 L335.6 444.4 L337.6 440.4 L339.5 433.1 L341.5 429.2 L343.4 434.7 L345.4 441.5 L347.4 449.5 L349.3 453.2 L351.3 448.6 L353.2 442.2 L355.2 433.2 L357 442.7 L358.7 447 L360.5 453.6 L362.2 459 L364 466.2 L365.7 460.8 L367.4 451.8 L369.1 446.3 L370.8 439.6 L372.8 439 L374.7 437.3 L376.7 435.4 L378.6 434.1 L380.6 438.7 L382.5 443 L384.4 449.3 L386.4 453.5 L388 447.7 L389.7 444.3 L391.3 439.9 L392.9 439.5 L394.6 432.8 L396.2 430.4 L398.1 437.5 L400.1 445.3 L402 455.8 L404 447.5 L405.9 441.7 L407.9 435.9 L409.9 436.1 L411.8 438.5 L413.8 439.6 L415.8 442.9 L417.7 446.6 L419.7 451.7 L421.6 454.8 L423.2 451 L424.8 450.4 L426.5 447.6 L428.1 445.4 L429.7 441.8 L431.3 438.4 L433.3 447.2 L435.2 457.3 L437.2 464.8 L439.1 456.5 L441.1 446.1 L443 436.4 L444.6 436 L446.2 439.3 L447.8 441.2 L449.4 442.4 L451.1 442.7 L452.7 442.2 L454.6 450.4 L456.6 455.2 L459.5 446.7 L461.5 451.7 L463.4 452.8 L465.4 452.9 L467.4 449.3 L469.3 442.3 L471.2 466.8 L474.2 446.5 L477.1 453 L479.1 429.8 L481.1 440.5 L483 453.9 L485.9 436.8 L487.9 447.6 L489.8 453.7 L491.8 450.5 L493.7 446.1 L495.3 443.4 L497 438.2 L498.6 437.4 L500.2 434.6 L501.9 434.2 L503.5 435.6 L505.1 438.9 L506.8 439.4 L508.4 440.8 L511.3 444.5 L513 445.1 L514.7 446.3 L516.4 444.9 L518.1 443.9 L520 448.4 L522 451.6 L525 442 L527.9 451.9 L529.5 450.6 L531.2 447.5 L532.8 442.4 L534.4 445.2 L536.1 447.6 L537.7 445.4 L540.6 437.8 L542.5 454.9 L544.5 466.8 L546.5 459.1 L548.4 449.1 L550 454.3 L551.7 462.7 L553.3 466.5 L556.2 428.6 L558.2 447.4 L560.1 466.8 L563 466.8" fill="none" stroke="#348036" stroke-width="2.3" stroke-linejoin="round" stroke-linecap="round" clip-path="url(#c01)"/>
<path d="M97 352.3 L99.1 362.1 L102.7 350.8 L105.3 349 L108 347.2 L110.4 346.5 L112.8 346.5 L115.2 345.9 L117.9 348 L120.6 349.8 L122.9 351.9 L125.2 353.5 L127.5 355.7 L129.7 357.8 L132 359.9 L134.3 361.9 L136.6 364.1 L139 365.7 L141.4 365.7 L143.8 368.1 L146.2 371.7 L148.6 372 L151 376 L153.5 374.1 L156 376.2 L158.4 377.4 L160.9 378.1 L163.4 380.6 L165.6 378.8 L167.9 381.8 L170.1 382.9 L172.4 382 L174.6 384.5 L176.8 383.7 L179.1 384.6 L181.3 386.6 L183.5 387.1 L185.7 385.4 L187.9 389.5 L190.2 388.7 L192.4 391.2 L194.6 388.8 L196.8 391.4 L199 393 L201.4 392.9 L203.7 391 L206.1 392.1 L208.5 392.5 L210.9 393.6 L213.2 393.7 L215.6 394.8 L217.8 398.9 L220 399.7 L222.2 400.4 L224.4 400.5 L226.6 399.1 L228.8 398.9 L231 399.7 L233.2 400.2 L235.4 403.5 L237.6 403.1 L239.8 407.8 L242 407 L244.4 409.5 L246.8 411.4 L249.2 409.4 L251.6 412.5 L254.2 413.6 L256.8 415.4 L259.4 416 L261.9 418.6 L264.5 423.2 L267 424.3 L270.3 412.5 L272.9 412.7 L275.4 415.8 L278 417.9 L280.5 416.3 L283 418.2 L285.6 418.2 L288.1 417.2 L290.6 415.5 L293 416.8 L295.3 417.4 L297.6 421.1 L300 420.3 L302.4 419.7 L304.7 420.8 L307 418.9 L309.4 416.8 L312 419.9 L314.7 419.1 L317.4 421.6 L320 421.2 L322 422.7 L323.9 425.1 L325.9 427.1 L327.8 425.2 L329.8 423.9 L331.7 422.4 L333.7 424.1 L335.6 427.1 L337.6 429 L339.5 425.8 L341.5 423.9 L343.4 421.5 L345.4 422.5 L347.3 425 L349.3 425.6 L351.2 426 L353.2 423.4 L355.2 421.4 L357.1 418 L359.1 422.7 L361 426.2 L362.9 428.2 L364.9 432.4 L366.9 428.9 L368.8 424.4 L370.8 419.6 L372.8 421.5 L374.7 424.3 L376.7 425.8 L378.6 425.6 L380.6 427.8 L382.5 428.1 L384.5 432 L386.4 429.9 L388.4 427 L390.4 425.4 L392.3 424.1 L394.2 425.7 L396.1 425.8 L398.1 424.9 L400 427.4 L402 428.2 L404 430.1 L406 434.2 L407.9 429 L409.9 424 L411.8 419.2 L413.8 419.2 L415.7 418.7 L417.7 420.6 L419.6 422.3 L421.6 422.3 L423.5 419.5 L425.5 417.7 L427.4 422.3 L429.4 423.6 L431.4 425.9 L433.3 426.9 L435 427.3 L436.6 428.4 L438.3 428.9 L440 430.6 L442 428.4 L444 426.8 L445.9 425.3 L447.8 422.5 L449.4 426.8 L451.1 434.2 L452.7 436.5 L454.4 432.6 L456.1 430.3 L457.8 425.9 L459.5 422.9 L461.4 423.5 L463.4 425.3 L466.4 422.6 L468 423.5 L469.6 423.9 L471.2 423.4 L473.2 441.4 L474.8 437.2 L476.4 430.4 L478 427.4 L479.8 426.3 L481.5 426.7 L483.2 424.2 L485 425.4 L486.6 429.1 L488.2 435.4 L489.8 441.2 L491.5 433.1 L493.2 427.1 L494.7 434.1 L496.6 428.8 L498.6 421.2 L500.2 433.5 L501.9 443.3 L503.5 454.6 L505.1 442.6 L506.8 433.4 L508.4 424.2 L510.3 424.1 L512.3 423.1 L514.2 424.7 L516.2 437.8 L518.1 428.3 L520.1 430.8 L522 435.9 L524 441.4 L526 435.6 L527.9 433.3 L529.8 434.1 L531.8 435.1 L533.4 430.8 L535.1 426.5 L536.7 423.3 L538.6 453.4 L541.6 434.2 L543.5 434.9 L545.5 439.1 L547.4 440.5 L549.3 433.1 L551.3 426.9 L553.2 423.8 L555.2 422.8 L557.2 424 L559.1 428.8 L561 432.9 L563 437" fill="none" stroke="#2a2878" stroke-width="2.3" stroke-linejoin="round" stroke-linecap="round" clip-path="url(#c01)"/>
<line x1="93" y1="475.3" x2="96.2" y2="475.3" stroke="#333" stroke-width="1.3"/>
<line x1="93" y1="472.7" x2="96.2" y2="472.7" stroke="#333" stroke-width="1.3"/>
<line x1="93" y1="470.4" x2="96.2" y2="470.4" stroke="#333" stroke-width="1.3"/>
<line x1="93" y1="468.3" x2="96.2" y2="468.3" stroke="#333" stroke-width="1.3"/>
<line x1="93" y1="466.5" x2="99" y2="466.5" stroke="#333" stroke-width="1.3"/>
<line x1="93" y1="454.5" x2="96.2" y2="454.5" stroke="#333" stroke-width="1.3"/>
<line x1="93" y1="447.5" x2="96.2" y2="447.5" stroke="#333" stroke-width="1.3"/>
<line x1="93" y1="442.5" x2="96.2" y2="442.5" stroke="#333" stroke-width="1.3"/>
<line x1="93" y1="438.7" x2="96.2" y2="438.7" stroke="#333" stroke-width="1.3"/>
<line x1="93" y1="435.5" x2="96.2" y2="435.5" stroke="#333" stroke-width="1.3"/>
<line x1="93" y1="432.9" x2="96.2" y2="432.9" stroke="#333" stroke-width="1.3"/>
<line x1="93" y1="430.6" x2="96.2" y2="430.6" stroke="#333" stroke-width="1.3"/>
<line x1="93" y1="428.5" x2="96.2" y2="428.5" stroke="#333" stroke-width="1.3"/>
<line x1="93" y1="426.7" x2="99" y2="426.7" stroke="#333" stroke-width="1.3"/>
<line x1="93" y1="414.7" x2="96.2" y2="414.7" stroke="#333" stroke-width="1.3"/>
<line x1="93" y1="407.7" x2="96.2" y2="407.7" stroke="#333" stroke-width="1.3"/>
<line x1="93" y1="402.7" x2="96.2" y2="402.7" stroke="#333" stroke-width="1.3"/>
<line x1="93" y1="398.9" x2="96.2" y2="398.9" stroke="#333" stroke-width="1.3"/>
<line x1="93" y1="395.7" x2="96.2" y2="395.7" stroke="#333" stroke-width="1.3"/>
<line x1="93" y1="393.1" x2="96.2" y2="393.1" stroke="#333" stroke-width="1.3"/>
<line x1="93" y1="390.8" x2="96.2" y2="390.8" stroke="#333" stroke-width="1.3"/>
<line x1="93" y1="388.7" x2="96.2" y2="388.7" stroke="#333" stroke-width="1.3"/>
<line x1="93" y1="386.9" x2="99" y2="386.9" stroke="#333" stroke-width="1.3"/>
<line x1="93" y1="374.9" x2="96.2" y2="374.9" stroke="#333" stroke-width="1.3"/>
<line x1="93" y1="367.9" x2="96.2" y2="367.9" stroke="#333" stroke-width="1.3"/>
<line x1="93" y1="362.9" x2="96.2" y2="362.9" stroke="#333" stroke-width="1.3"/>
<line x1="93" y1="359.1" x2="96.2" y2="359.1" stroke="#333" stroke-width="1.3"/>
<line x1="93" y1="355.9" x2="96.2" y2="355.9" stroke="#333" stroke-width="1.3"/>
<line x1="93" y1="353.3" x2="96.2" y2="353.3" stroke="#333" stroke-width="1.3"/>
<line x1="93" y1="351" x2="96.2" y2="351" stroke="#333" stroke-width="1.3"/>
<line x1="93" y1="348.9" x2="96.2" y2="348.9" stroke="#333" stroke-width="1.3"/>
<line x1="93" y1="347.1" x2="99" y2="347.1" stroke="#333" stroke-width="1.3"/>
<line x1="93" y1="335.1" x2="96.2" y2="335.1" stroke="#333" stroke-width="1.3"/>
<line x1="93" y1="328.1" x2="96.2" y2="328.1" stroke="#333" stroke-width="1.3"/>
<line x1="93" y1="323.1" x2="96.2" y2="323.1" stroke="#333" stroke-width="1.3"/>
<line x1="93" y1="319.3" x2="96.2" y2="319.3" stroke="#333" stroke-width="1.3"/>
<line x1="93" y1="316.1" x2="96.2" y2="316.1" stroke="#333" stroke-width="1.3"/>
<line x1="93" y1="313.5" x2="96.2" y2="313.5" stroke="#333" stroke-width="1.3"/>
<line x1="93" y1="311.2" x2="96.2" y2="311.2" stroke="#333" stroke-width="1.3"/>
<line x1="93" y1="309.1" x2="96.2" y2="309.1" stroke="#333" stroke-width="1.3"/>
<line x1="93" y1="307.3" x2="99" y2="307.3" stroke="#333" stroke-width="1.3"/>
<line x1="93" y1="295.3" x2="96.2" y2="295.3" stroke="#333" stroke-width="1.3"/>
<line x1="93" y1="288.3" x2="96.2" y2="288.3" stroke="#333" stroke-width="1.3"/>
<line x1="93" y1="283.3" x2="96.2" y2="283.3" stroke="#333" stroke-width="1.3"/>
<line x1="93" y1="279.5" x2="96.2" y2="279.5" stroke="#333" stroke-width="1.3"/>
<line x1="93" y1="276.3" x2="96.2" y2="276.3" stroke="#333" stroke-width="1.3"/>
<line x1="93" y1="273.7" x2="96.2" y2="273.7" stroke="#333" stroke-width="1.3"/>
<line x1="93" y1="271.4" x2="96.2" y2="271.4" stroke="#333" stroke-width="1.3"/>
<line x1="93" y1="269.3" x2="96.2" y2="269.3" stroke="#333" stroke-width="1.3"/>
<line x1="93" y1="267.5" x2="99" y2="267.5" stroke="#333" stroke-width="1.3"/>
<rect x="93" y="267.5" width="469" height="210.5" fill="none" stroke="#3a3a3a" stroke-width="1.7"/>
<text x="59.6" y="474.1" font-size="17" fill="#222" stroke="#222" stroke-width="0.4">10</text>
<text x="78.6" y="463.7" font-size="10.5" fill="#222" stroke="#222" stroke-width="0.25">0</text>
<text x="59.6" y="434.3" font-size="17" fill="#222" stroke="#222" stroke-width="0.4">10</text>
<text x="78.6" y="423.9" font-size="10.5" fill="#222" stroke="#222" stroke-width="0.25">1</text>
<text x="59.6" y="394.5" font-size="17" fill="#222" stroke="#222" stroke-width="0.4">10</text>
<text x="78.6" y="384.1" font-size="10.5" fill="#222" stroke="#222" stroke-width="0.25">2</text>
<text x="59.6" y="354.7" font-size="17" fill="#222" stroke="#222" stroke-width="0.4">10</text>
<text x="78.6" y="344.3" font-size="10.5" fill="#222" stroke="#222" stroke-width="0.25">3</text>
<text x="59.6" y="314.9" font-size="17" fill="#222" stroke="#222" stroke-width="0.4">10</text>
<text x="78.6" y="304.5" font-size="10.5" fill="#222" stroke="#222" stroke-width="0.25">4</text>
<text x="59.6" y="275.1" font-size="17" fill="#222" stroke="#222" stroke-width="0.4">10</text>
<text x="78.6" y="264.7" font-size="10.5" fill="#222" stroke="#222" stroke-width="0.25">5</text>
<rect x="429.5" y="287" width="11.5" height="2.3" fill="#383838"/>
<text x="445" y="295" font-size="18" font-weight="normal" fill="#383838" stroke="#383838" stroke-width="1.0"><tspan font-size="18" dy="0">Li</tspan><tspan font-size="10" dy="-9">-</tspan></text>
<rect x="429.5" y="346" width="11.5" height="2.3" fill="#3636dc"/>
<text x="445" y="354" font-size="18" font-weight="normal" fill="#3636dc" stroke="#3636dc" stroke-width="1.0"><tspan font-size="18" dy="0">CHO</tspan><tspan font-size="11.5" dy="7">2</tspan><tspan font-size="10" dy="-16" dx="-5.5">-</tspan></text>
<rect x="429.5" y="400.4" width="11.5" height="2.3" fill="#e23ed8"/>
<text x="445" y="408.4" font-size="18" font-weight="normal" fill="#e23ed8" stroke="#e23ed8" stroke-width="1.0"><tspan font-size="18" dy="0">C</tspan><tspan font-size="11.5" dy="7">2</tspan><tspan font-size="18" dy="-7">H</tspan><tspan font-size="11.5" dy="7">2</tspan><tspan font-size="18" dy="-7">O</tspan><tspan font-size="10" dy="-9">-</tspan></text>
<rect x="289.5" y="399.9" width="11.5" height="2.3" fill="#2a2878"/>
<text x="305" y="407.9" font-size="18" font-weight="normal" fill="#2a2878" stroke="#2a2878" stroke-width="1.0"><tspan font-size="18" dy="0">NS</tspan><tspan font-size="11.5" dy="7">2</tspan><tspan font-size="18" dy="-7">O</tspan><tspan font-size="11.5" dy="7">4</tspan><tspan font-size="18" dy="-7">C</tspan><tspan font-size="11.5" dy="7">2</tspan><tspan font-size="18" dy="-7">F</tspan><tspan font-size="11.5" dy="7">6</tspan><tspan font-size="10" dy="-16" dx="-5.5">-</tspan></text>
<rect x="112.4" y="405.5" width="11.5" height="2.3" fill="#348036"/>
<text x="127.9" y="413.5" font-size="18" font-weight="normal" fill="#348036" stroke="#348036" stroke-width="1.0"><tspan font-size="18" dy="0">CO</tspan><tspan font-size="11.5" dy="7">3</tspan><tspan font-size="10" dy="-16" dx="-5.5">-</tspan></text>
<rect x="93" y="495" width="469" height="211" fill="#fbfbfb"/>
<rect x="98.5" y="495" width="31.5" height="211" fill="#fcd88c"/>
<rect x="130" y="495" width="122" height="211" fill="#c2c2e2"/>
<rect x="251.5" y="495" width="178.5" height="211" fill="url(#gc)"/>
<rect x="429.5" y="495" width="132.5" height="211" fill="#e3e3e3"/>
<line x1="98.5" y1="694.2" x2="562" y2="694.2" stroke="#555" stroke-opacity="0.42" stroke-width="1.5" stroke-dasharray="2.2 3.1"/>
<line x1="98.5" y1="654.4" x2="562" y2="654.4" stroke="#555" stroke-opacity="0.42" stroke-width="1.5" stroke-dasharray="2.2 3.1"/>
<line x1="98.5" y1="614.5" x2="562" y2="614.5" stroke="#555" stroke-opacity="0.42" stroke-width="1.5" stroke-dasharray="2.2 3.1"/>
<line x1="98.5" y1="574.7" x2="562" y2="574.7" stroke="#555" stroke-opacity="0.42" stroke-width="1.5" stroke-dasharray="2.2 3.1"/>
<line x1="98.5" y1="534.9" x2="562" y2="534.9" stroke="#555" stroke-opacity="0.42" stroke-width="1.5" stroke-dasharray="2.2 3.1"/>
<line x1="98.5" y1="495" x2="98.5" y2="706" stroke="#555" stroke-opacity="0.42" stroke-width="1.4" stroke-dasharray="2.2 3.1"/>
<line x1="176" y1="495" x2="176" y2="706" stroke="#555" stroke-opacity="0.42" stroke-width="1.4" stroke-dasharray="2.2 3.1"/>
<line x1="253.5" y1="495" x2="253.5" y2="706" stroke="#555" stroke-opacity="0.42" stroke-width="1.4" stroke-dasharray="2.2 3.1"/>
<line x1="331" y1="495" x2="331" y2="706" stroke="#555" stroke-opacity="0.42" stroke-width="1.4" stroke-dasharray="2.2 3.1"/>
<line x1="408.5" y1="495" x2="408.5" y2="706" stroke="#555" stroke-opacity="0.42" stroke-width="1.4" stroke-dasharray="2.2 3.1"/>
<line x1="486" y1="495" x2="486" y2="706" stroke="#555" stroke-opacity="0.42" stroke-width="1.4" stroke-dasharray="2.2 3.1"/>
<path d="M97 574 L99.6 572.3 L102.1 571.4 L104.7 570 L107.3 568.4 L109.8 566.9 L112.4 565.9 L114.9 564.5 L117.4 562.9 L119.9 561.5 L122.5 559.9 L125 558.3 L127.5 557.2 L130 556 L132.7 554.2 L135.3 553.3 L138 551.5 L140.7 550.1 L143.3 548.5 L146 547.9 L148.8 546.3 L151.6 545 L154.4 543.4 L157.3 541.5 L160.1 540.4 L162.9 539.1 L165.7 537.4 L168.5 537.6 L171.3 536.7 L174.1 536 L177 536.1 L179.8 535.1 L182.6 535.2 L185.2 534.8 L187.7 534.7 L190.3 534.5 L192.9 534.5 L195.4 534.1 L198 533.9 L200.6 534.4 L203.2 533.8 L205.7 534.2 L208.3 533.6 L210.9 534.1 L213.4 533.9 L216 533.7 L218.6 533.7 L221.2 533.5 L223.8 533.5 L226.4 533 L228.9 533.2 L231.5 533.4 L234.1 532.9 L236.7 533.4 L239.3 533.3 L241.9 532.9 L244.5 532.8 L247.1 532.8 L249.6 532.7 L252.2 533.2 L254.8 532.6 L257.4 532.3 L260 532.3 L262.5 532.8 L265 533 L267.5 532.6 L270 532.6 L272.5 532.7 L275 532.8 L277.5 532.4 L280 532.7 L282.5 532.7 L285 532.8 L287.5 532.4 L290 532.4 L292.5 532.6 L295 533 L297.5 532.6 L300 532.8 L302.5 532.6 L305 532.4 L307.5 532.4 L310 533 L312.5 533 L315 532.6 L317.5 532.9 L320 532.9 L322.5 533.1 L325 533.1 L327.5 532.7 L330 533.2 L332.5 533.2 L335 532.9 L337.5 533.1 L340 532.8 L342.5 532.7 L345 532.6 L347.5 533.1 L350 532.6 L352.5 532.5 L355 533.1 L357.5 533.1 L360 532.8 L362.5 533.1 L365 532.5 L367.5 532.7 L370 532.7 L372.5 532.8 L375 532.6 L377.5 532.5 L380 532.8 L382.5 533.2 L385 533.3 L387.5 533.1 L390 532.9 L392.5 532.7 L395 533.3 L397.5 533 L400 533.1 L402.5 532.6 L405 532.7 L407.5 533.2 L410 533.2 L412.5 533.3 L415 533.1 L417.5 532.9 L420 533.1 L422.5 533.3 L425.1 532.8 L427.6 533 L430.1 532.7 L432.7 533.1 L435.2 532.5 L437.8 533 L440.3 533.2 L442.8 532.5 L445.4 532.9 L447.9 532.9 L450.4 533.1 L453 532.8 L455.5 532.6 L458 532.7 L460.6 533.1 L463.1 533 L465.6 532.4 L468.2 532.3 L470.7 532.3 L473.2 532.2 L475.8 532.6 L478.3 532.3 L480.9 532.9 L483.4 532.7 L485.9 532.2 L488.5 532.5 L491 532.4 L493.5 532.5 L496.1 532.2 L498.6 532.2 L501.1 532.2 L503.7 532.3 L506.2 532.6 L508.8 532.4 L511.3 532 L513.8 532.5 L516.4 532.6 L518.9 532.5 L521.4 532.5 L524 531.9 L526.5 532.2 L529 531.9 L531.6 532.4 L534.1 531.9 L536.6 532.3 L539.2 532 L541.7 532.3 L544.2 532 L546.8 531.7 L549.3 532 L551.9 531.9 L554.4 532.4 L556.9 531.9 L559.5 532 L562 532" fill="none" stroke="#383838" stroke-width="2.3" stroke-linejoin="round" stroke-linecap="round" clip-path="url(#c02)"/>
<path d="M97 574 L101 552 L103.8 548 L106.7 544.4 L109.6 541.5 L112.4 537.5 L114.9 537.1 L117.4 537.1 L119.9 536.6 L122.5 536.6 L125 535.9 L127.5 536 L130 535.3 L132.7 535.7 L135.3 536.2 L138 536.3 L140.7 536.7 L143.3 536.9 L146 536.7 L148.5 537.9 L151.1 538.5 L153.6 539 L156.2 539.6 L158.7 540.7 L161.3 541.2 L163.8 542.2 L166.4 542.8 L168.9 543.6 L171.5 544 L174 544.8 L176.5 545.5 L179.1 546.1 L181.6 547.2 L184.2 547.6 L186.7 548.6 L189.3 549.5 L191.8 550.1 L194.4 550.5 L196.9 551.7 L199.5 552.3 L202 552.8 L204.5 553.2 L207.1 554.1 L209.6 554.3 L212.2 555.3 L214.7 555.6 L217.3 556.1 L219.8 556.6 L222.4 557.2 L224.9 557.9 L227.5 558.1 L230 558.6 L232.5 559 L235 559 L237.5 559.5 L240 559.7 L242.5 559.8 L245 560.2 L247.5 560.4 L250 559.7 L252.5 561.8 L255 560.7 L257.5 561.1 L260 561.3 L262.6 562.7 L265.1 563.1 L267.7 562.5 L270.2 562.7 L272.8 562.4 L275.3 564.3 L277.9 563.2 L280.4 564.3 L283 564.2 L285.5 564.5 L288.1 564.9 L290.6 564.9 L293.2 565 L295.7 566.3 L298.3 567.2 L300.8 567.2 L303.4 566.6 L305.9 568 L308.5 567 L311 568.1 L313.6 569.3 L316.1 569.8 L318.7 569.2 L321.2 570.3 L323.8 569.9 L326.3 570.3 L328.9 570.8 L331.4 571.9 L334 571.8 L336.5 571.4 L339.1 572 L341.6 572 L344.1 571.5 L346.6 572.5 L349.2 572.7 L351.7 572.4 L354.2 573.2 L356.8 571.5 L359.3 572.6 L361.8 573 L364.4 572.5 L366.9 572.3 L369.4 573.5 L371.9 573.1 L374.5 572.9 L377 572.5 L379.5 574.5 L382.1 573.4 L384.6 573.1 L387.1 573.4 L389.6 573.6 L392.2 574.9 L394.7 573.7 L397.2 574 L399.8 573.8 L402.3 574.7 L404.8 574.3 L407.4 574.7 L409.9 575.6 L412.4 576.1 L414.9 576 L417.5 574.6 L420 575.4 L422.6 576.4 L425.1 574.9 L427.7 575.3 L430.2 576 L432.8 575.9 L435.4 576.8 L437.9 576.8 L440.5 576.4 L443 576.1 L445.6 576.2 L448.2 576.4 L450.7 576.1 L453.3 577.4 L455.8 576.5 L458.4 578.1 L461 577.7 L463.5 576.6 L466.1 577.6 L468.6 577.9 L471.2 576.9 L473.8 577.9 L476.3 577.1 L478.9 578.7 L481.4 577.3 L484 578.7 L486.5 579.4 L489 579.2 L491.5 578.1 L494.1 578.7 L496.6 578 L499.1 578.5 L501.6 579.6 L504.1 579.5 L506.6 578 L509.2 578.8 L511.7 579.4 L514.2 578.5 L516.7 579.8 L519.2 580 L521.7 579.4 L524.3 579.1 L526.8 580.1 L529.3 579.5 L531.8 578.9 L534.3 579.2 L536.8 579 L539.4 580.4 L541.9 579.8 L544.4 580.3 L546.9 580.6 L549.4 580.9 L551.9 579.4 L554.5 579.9 L557 580.9 L559.5 580.8 L562 580.3" fill="none" stroke="#3636dc" stroke-width="2.3" stroke-linejoin="round" stroke-linecap="round" clip-path="url(#c02)"/>
<path d="M97 582.6 L100.3 579.2 L103.5 575.4 L106.8 571.6 L109.4 570.2 L112 569.8 L114.5 568.9 L117.1 568.2 L119.7 567.1 L122.3 566.4 L124.8 565.8 L127.4 564.9 L130 564.3 L132.7 564.2 L135.3 564.4 L138 565.2 L140.7 565.2 L143.3 565.5 L146 565.9 L148.5 566.5 L151.1 567.1 L153.6 568.6 L156.2 569.4 L158.7 570.3 L161.3 571.2 L163.8 572.4 L166.4 572.8 L168.9 574 L171.5 574.6 L174 575.7 L176.5 576.2 L179.1 576.5 L181.6 576.8 L184.2 577.6 L186.7 578.3 L189.3 578.7 L191.8 579.1 L194.4 579.8 L196.9 579.9 L199.5 580.4 L202 580.7 L204.5 582.3 L207.1 580.9 L209.6 581 L212.2 581.2 L214.7 581.3 L217.3 582.1 L219.8 583.2 L222.4 584.1 L224.9 583.1 L227.5 583.4 L230 583.5 L232.5 583.6 L235 585 L237.5 584.5 L240 583.8 L242.5 583.6 L245 585.4 L247.5 585.4 L250 585.8 L252.5 584.4 L255 585.3 L257.5 586.4 L260 585.6 L262.6 586.7 L265.1 584.8 L267.7 587.1 L270.2 584.8 L272.8 585.9 L275.3 585 L277.9 587.2 L280.4 587 L283 587.9 L285.5 587.6 L288.1 588.2 L290.6 587.2 L293.2 588.6 L295.7 588.1 L298.3 587.2 L300.8 589 L303.4 587.5 L305.9 587.2 L308.5 587 L311 588.2 L313.6 587.7 L316.1 589.7 L318.7 589.9 L321.2 588.1 L323.8 588 L326.3 589.2 L328.9 588.5 L331.4 589.6 L334 590.4 L336.5 589.1 L339.1 589.8 L341.6 591.2 L344.2 590.2 L346.7 590.1 L349.3 591.8 L351.8 591.8 L354.4 592.2 L356.9 591.8 L359.5 591.3 L362 592.2 L364.5 592.7 L367.1 592.4 L369.6 591.6 L372.2 591.9 L374.7 592.4 L377.3 593.6 L379.8 593.2 L382.4 593.4 L384.9 594.3 L387.5 592.6 L390 594.1 L392.5 593.4 L395 594 L397.5 594.7 L400 593.1 L402.5 595 L405 592.7 L407.5 594 L410 593.9 L412.5 593.1 L415 594 L417.5 593.7 L420 593.7 L422.6 594.5 L425.1 592.7 L427.7 593.7 L430.2 594.9 L432.8 593.3 L435.4 595.3 L437.9 593.6 L440.5 595 L443 593.7 L445.6 594.5 L448.2 594.6 L450.7 593.8 L453.3 595.5 L455.8 595 L458.4 595.6 L461 595.3 L463.5 595.4 L466.1 595.5 L468.6 594.9 L471.2 596.6 L473.8 594.6 L476.3 596.7 L478.9 596.8 L481.4 595.9 L484 596.7 L486.5 596.5 L489 596.3 L491.5 595.6 L494.1 595.7 L496.6 595.8 L499.1 595.7 L501.6 597.4 L504.1 595.8 L506.6 596 L509.2 596.1 L511.7 597.2 L514.2 596.3 L516.7 596.6 L519.2 595.8 L521.7 595.9 L524.3 595.4 L526.8 595.8 L529.3 596 L531.8 597.5 L534.3 596.7 L536.8 595.7 L539.4 596.6 L541.9 595.8 L544.4 596.9 L546.9 596.7 L549.4 597.8 L551.9 596.2 L554.5 597.8 L557 596.3 L559.5 598.2 L562 597" fill="none" stroke="#e23ed8" stroke-width="2.3" stroke-linejoin="round" stroke-linecap="round" clip-path="url(#c02)"/>
<path d="M97 612 L99.6 610.8 L102.1 609.4 L104.7 606.5 L107.3 606.5 L109.8 603.2 L112.4 602.5 L114.9 600.1 L117.4 600.1 L119.9 597.6 L122.5 597.5 L125 596.2 L127.5 595 L130 593.1 L132.7 593.6 L135.4 593.5 L138.1 591.5 L140.9 592 L143.6 592.5 L146.3 591.8 L149 590.9 L151.5 591.3 L154 595.2 L156.5 592.5 L159 596.6 L161.5 598.1 L164 596.2 L166.5 598.1 L169 599.1 L171.5 601.3 L174 601.6 L176.5 604.7 L179.1 605.6 L181.6 603.7 L184.2 607 L186.7 604.1 L189.3 605 L191.8 608.3 L194.4 609.6 L196.9 610.5 L199.5 612 L202 612.2 L204.8 610.8 L207.7 614.1 L210.5 616.1 L213.3 613.6 L216.1 616.6 L219 616.3 L221.8 617.4 L224.3 618.6 L226.8 619.1 L229.3 620.2 L231.8 616.1 L234.3 617.5 L236.8 619.3 L239.3 618 L241.8 616.7 L244.3 615.1 L246.9 617.2 L249.5 616.1 L252.2 618.2 L254.8 618.7 L257.4 618.1 L260 620.3 L262.7 618.8 L265.3 619.3 L268 621.2 L270.7 618.8 L273.3 618.8 L276 620.7 L278.7 620.3 L281.3 622.5 L284 620 L286.7 620.8 L289.3 619.6 L292 621.6 L294.6 621.2 L297.2 621.9 L299.9 623.5 L302.5 620.5 L305.1 624.8 L307.8 623.8 L310.4 624.4 L313 623.4 L315.6 623.7 L318.2 623.2 L320.9 623.3 L323.5 622.7 L326.1 623.2 L328.8 623.3 L331.4 623.7 L334 626.4 L336.5 626.3 L339.1 625.9 L341.6 623.5 L344.1 625 L346.6 626.6 L349.2 627.6 L351.7 626.7 L354.2 628 L356.8 629.6 L359.3 627.1 L361.8 628 L364.4 630 L366.9 628.4 L369.4 630.5 L372 629.5 L374.5 628.2 L377 630.5 L379.5 629.1 L382.1 632.6 L384.6 633.2 L387.1 631.6 L389.7 633 L392.2 629.8 L394.7 630.6 L397.2 629.2 L399.8 628.5 L402.3 631.7 L404.8 628.1 L407.4 631.7 L409.9 629.9 L412.4 630.3 L414.9 627.2 L417.5 630.8 L420 630.1 L422.6 627.1 L425.1 627.6 L427.7 627.5 L430.3 629.2 L432.9 627.4 L435.4 630.6 L438 629.4 L440.6 630.4 L443.1 628.5 L445.7 630.3 L448.3 629.5 L450.9 630.5 L453.4 629.5 L456 632.2 L458.5 631.9 L461.1 632.3 L463.6 630.5 L466.2 630.3 L468.7 630.5 L471.3 630.8 L473.8 634.9 L476.4 632.3 L478.9 635.3 L481.5 632.9 L484 635 L486.6 633.6 L489.2 634 L491.9 636.1 L494.5 635.7 L497.1 637.3 L499.8 634.4 L502.4 634.7 L505 634 L507.6 634.8 L510.2 638.4 L512.9 636.7 L515.5 636.5 L518.1 636.1 L520.8 638.1 L523.4 638 L526 635.8 L528.6 635 L531.1 635.2 L533.7 637.8 L536.3 637.1 L538.9 634.6 L541.4 634.3 L544 634.3 L546.6 635.6 L549.1 635.6 L551.7 633.1 L554.3 633.2 L556.9 632.5 L559.4 635.3 L562 633" fill="none" stroke="#348036" stroke-width="2.3" stroke-linejoin="round" stroke-linecap="round" clip-path="url(#c02)"/>
<path d="M97 564.3 L101 573.9 L103.8 577.8 L106.7 581.2 L109.6 584.3 L112.4 588.2 L114.9 589.5 L117.4 590.6 L119.9 592.6 L122.5 593.6 L125 595 L127.5 596.5 L130 598.3 L132.7 598.3 L135.3 601.9 L138 604.1 L140.7 604.6 L143.3 607.2 L146 608.2 L148.8 611.4 L151.6 611.5 L154.4 614.5 L157.3 617.3 L160.1 618.4 L162.9 623.9 L165.7 624.6 L180 630.6 L184.3 642.7 L188.6 635 L197.2 641 L204 650.4 L210 641 L213.5 642.7 L219.5 662.4 L223.8 647.8 L231.6 653 L235 669.3 L239.3 664.1 L243.6 670.2 L247.9 656.4 L252.2 659.8 L254.8 659 L259 694.2 L266 664.1 L271 674.5 L273.7 671 L278.8 694.2 L285.7 664.1 L290 674.5 L293.4 671 L300.3 680.5 L306.3 684 L309.8 694.2 L316.6 666.7 L321 694.2 L325.2 671 L330.4 682.2 L336.4 694.2 L344.1 666.7 L351.9 678.8 L356.2 694.2 L359.6 676.2 L363 694.2 L367.3 682.2 L371.6 694.2 L376 682.2 L379.4 682.2" fill="none" stroke="#2a2878" stroke-width="2.3" stroke-linejoin="round" stroke-linecap="round" clip-path="url(#c02)"/>
<path d="M394.8 674.9 L399.3 694.2" fill="none" stroke="#2a2878" stroke-width="2.3" stroke-linejoin="round" stroke-linecap="round" clip-path="url(#c02)"/>
<path d="M406.7 694.2 L410.4 682.3 L414.9 681.6" fill="none" stroke="#2a2878" stroke-width="2.3" stroke-linejoin="round" stroke-linecap="round" clip-path="url(#c02)"/>
<path d="M427.5 681.6 L431.2 684.5 L435.7 694.2 L445.3 671.2 L449.8 693.4 L452.7 674.9 L457.2 675.6 L461.6 694.2" fill="none" stroke="#2a2878" stroke-width="2.3" stroke-linejoin="round" stroke-linecap="round" clip-path="url(#c02)"/>
<path d="M476.5 682.3 L481.7 666" fill="none" stroke="#2a2878" stroke-width="2.3" stroke-linejoin="round" stroke-linecap="round" clip-path="url(#c02)"/>
<path d="M512.1 682.3 L518.8 694.2" fill="none" stroke="#2a2878" stroke-width="2.3" stroke-linejoin="round" stroke-linecap="round" clip-path="url(#c02)"/>
<path d="M527 682.3 L531.4 694.2" fill="none" stroke="#2a2878" stroke-width="2.3" stroke-linejoin="round" stroke-linecap="round" clip-path="url(#c02)"/>
<path d="M546.2 694.2 L561.8 694.2" fill="none" stroke="#2a2878" stroke-width="2.3" stroke-linejoin="round" stroke-linecap="round" clip-path="url(#c02)"/>
<line x1="93" y1="703.1" x2="96.2" y2="703.1" stroke="#333" stroke-width="1.3"/>
<line x1="93" y1="700.4" x2="96.2" y2="700.4" stroke="#333" stroke-width="1.3"/>
<line x1="93" y1="698.1" x2="96.2" y2="698.1" stroke="#333" stroke-width="1.3"/>
<line x1="93" y1="696.1" x2="96.2" y2="696.1" stroke="#333" stroke-width="1.3"/>
<line x1="93" y1="694.2" x2="99" y2="694.2" stroke="#333" stroke-width="1.3"/>
<line x1="93" y1="682.3" x2="96.2" y2="682.3" stroke="#333" stroke-width="1.3"/>
<line x1="93" y1="675.2" x2="96.2" y2="675.2" stroke="#333" stroke-width="1.3"/>
<line x1="93" y1="670.3" x2="96.2" y2="670.3" stroke="#333" stroke-width="1.3"/>
<line x1="93" y1="666.4" x2="96.2" y2="666.4" stroke="#333" stroke-width="1.3"/>
<line x1="93" y1="663.2" x2="96.2" y2="663.2" stroke="#333" stroke-width="1.3"/>
<line x1="93" y1="660.6" x2="96.2" y2="660.6" stroke="#333" stroke-width="1.3"/>
<line x1="93" y1="658.3" x2="96.2" y2="658.3" stroke="#333" stroke-width="1.3"/>
<line x1="93" y1="656.2" x2="96.2" y2="656.2" stroke="#333" stroke-width="1.3"/>
<line x1="93" y1="654.4" x2="99" y2="654.4" stroke="#333" stroke-width="1.3"/>
<line x1="93" y1="642.4" x2="96.2" y2="642.4" stroke="#333" stroke-width="1.3"/>
<line x1="93" y1="635.4" x2="96.2" y2="635.4" stroke="#333" stroke-width="1.3"/>
<line x1="93" y1="630.4" x2="96.2" y2="630.4" stroke="#333" stroke-width="1.3"/>
<line x1="93" y1="626.5" x2="96.2" y2="626.5" stroke="#333" stroke-width="1.3"/>
<line x1="93" y1="623.4" x2="96.2" y2="623.4" stroke="#333" stroke-width="1.3"/>
<line x1="93" y1="620.7" x2="96.2" y2="620.7" stroke="#333" stroke-width="1.3"/>
<line x1="93" y1="618.4" x2="96.2" y2="618.4" stroke="#333" stroke-width="1.3"/>
<line x1="93" y1="616.4" x2="96.2" y2="616.4" stroke="#333" stroke-width="1.3"/>
<line x1="93" y1="614.5" x2="99" y2="614.5" stroke="#333" stroke-width="1.3"/>
<line x1="93" y1="602.6" x2="96.2" y2="602.6" stroke="#333" stroke-width="1.3"/>
<line x1="93" y1="595.5" x2="96.2" y2="595.5" stroke="#333" stroke-width="1.3"/>
<line x1="93" y1="590.6" x2="96.2" y2="590.6" stroke="#333" stroke-width="1.3"/>
<line x1="93" y1="586.7" x2="96.2" y2="586.7" stroke="#333" stroke-width="1.3"/>
<line x1="93" y1="583.5" x2="96.2" y2="583.5" stroke="#333" stroke-width="1.3"/>
<line x1="93" y1="580.9" x2="96.2" y2="580.9" stroke="#333" stroke-width="1.3"/>
<line x1="93" y1="578.6" x2="96.2" y2="578.6" stroke="#333" stroke-width="1.3"/>
<line x1="93" y1="576.5" x2="96.2" y2="576.5" stroke="#333" stroke-width="1.3"/>
<line x1="93" y1="574.7" x2="99" y2="574.7" stroke="#333" stroke-width="1.3"/>
<line x1="93" y1="562.7" x2="96.2" y2="562.7" stroke="#333" stroke-width="1.3"/>
<line x1="93" y1="555.7" x2="96.2" y2="555.7" stroke="#333" stroke-width="1.3"/>
<line x1="93" y1="550.7" x2="96.2" y2="550.7" stroke="#333" stroke-width="1.3"/>
<line x1="93" y1="546.8" x2="96.2" y2="546.8" stroke="#333" stroke-width="1.3"/>
<line x1="93" y1="543.7" x2="96.2" y2="543.7" stroke="#333" stroke-width="1.3"/>
<line x1="93" y1="541" x2="96.2" y2="541" stroke="#333" stroke-width="1.3"/>
<line x1="93" y1="538.7" x2="96.2" y2="538.7" stroke="#333" stroke-width="1.3"/>
<line x1="93" y1="536.7" x2="96.2" y2="536.7" stroke="#333" stroke-width="1.3"/>
<line x1="93" y1="534.9" x2="99" y2="534.9" stroke="#333" stroke-width="1.3"/>
<line x1="93" y1="522.9" x2="96.2" y2="522.9" stroke="#333" stroke-width="1.3"/>
<line x1="93" y1="515.8" x2="96.2" y2="515.8" stroke="#333" stroke-width="1.3"/>
<line x1="93" y1="510.9" x2="96.2" y2="510.9" stroke="#333" stroke-width="1.3"/>
<line x1="93" y1="507" x2="96.2" y2="507" stroke="#333" stroke-width="1.3"/>
<line x1="93" y1="503.8" x2="96.2" y2="503.8" stroke="#333" stroke-width="1.3"/>
<line x1="93" y1="501.2" x2="96.2" y2="501.2" stroke="#333" stroke-width="1.3"/>
<line x1="93" y1="498.9" x2="96.2" y2="498.9" stroke="#333" stroke-width="1.3"/>
<line x1="93" y1="496.8" x2="96.2" y2="496.8" stroke="#333" stroke-width="1.3"/>
<line x1="93" y1="495" x2="99" y2="495" stroke="#333" stroke-width="1.3"/>
<rect x="93" y="495" width="469" height="211" fill="none" stroke="#3a3a3a" stroke-width="1.7"/>
<text x="59.6" y="701.9" font-size="17" fill="#222" stroke="#222" stroke-width="0.4">10</text>
<text x="78.6" y="691.5" font-size="10.5" fill="#222" stroke="#222" stroke-width="0.25">0</text>
<text x="59.6" y="662" font-size="17" fill="#222" stroke="#222" stroke-width="0.4">10</text>
<text x="78.6" y="651.6" font-size="10.5" fill="#222" stroke="#222" stroke-width="0.25">1</text>
<text x="59.6" y="622.1" font-size="17" fill="#222" stroke="#222" stroke-width="0.4">10</text>
<text x="78.6" y="611.8" font-size="10.5" fill="#222" stroke="#222" stroke-width="0.25">2</text>
<text x="59.6" y="582.3" font-size="17" fill="#222" stroke="#222" stroke-width="0.4">10</text>
<text x="78.6" y="571.9" font-size="10.5" fill="#222" stroke="#222" stroke-width="0.25">3</text>
<text x="59.6" y="542.5" font-size="17" fill="#222" stroke="#222" stroke-width="0.4">10</text>
<text x="78.6" y="532.1" font-size="10.5" fill="#222" stroke="#222" stroke-width="0.25">4</text>
<text x="59.6" y="502.6" font-size="17" fill="#222" stroke="#222" stroke-width="0.4">10</text>
<text x="78.6" y="492.2" font-size="10.5" fill="#222" stroke="#222" stroke-width="0.25">5</text>
<rect x="429.5" y="520.7" width="11.5" height="2.3" fill="#383838"/>
<text x="445" y="528.7" font-size="18" font-weight="normal" fill="#383838" stroke="#383838" stroke-width="1.0"><tspan font-size="18" dy="0">Li</tspan><tspan font-size="10" dy="-9">-</tspan></text>
<rect x="429.5" y="559" width="11.5" height="2.3" fill="#3636dc"/>
<text x="445" y="567" font-size="18" font-weight="normal" fill="#3636dc" stroke="#3636dc" stroke-width="1.0"><tspan font-size="18" dy="0">CHO</tspan><tspan font-size="11.5" dy="7">2</tspan><tspan font-size="10" dy="-16" dx="-5.5">-</tspan></text>
<rect x="429.5" y="611" width="11.5" height="2.3" fill="#e23ed8"/>
<text x="445" y="619" font-size="18" font-weight="normal" fill="#e23ed8" stroke="#e23ed8" stroke-width="1.0"><tspan font-size="18" dy="0">C</tspan><tspan font-size="11.5" dy="7">2</tspan><tspan font-size="18" dy="-7">H</tspan><tspan font-size="11.5" dy="7">2</tspan><tspan font-size="18" dy="-7">O</tspan><tspan font-size="10" dy="-9">-</tspan></text>
<rect x="290.7" y="644" width="11.5" height="2.3" fill="#2a2878"/>
<text x="306.2" y="652" font-size="18" font-weight="normal" fill="#2a2878" stroke="#2a2878" stroke-width="1.0"><tspan font-size="18" dy="0">NS</tspan><tspan font-size="11.5" dy="7">2</tspan><tspan font-size="18" dy="-7">O</tspan><tspan font-size="11.5" dy="7">4</tspan><tspan font-size="18" dy="-7">C</tspan><tspan font-size="11.5" dy="7">2</tspan><tspan font-size="18" dy="-7">F</tspan><tspan font-size="11.5" dy="7">6</tspan><tspan font-size="10" dy="-16" dx="-5.5">-</tspan></text>
<rect x="112.4" y="637.7" width="11.5" height="2.3" fill="#348036"/>
<text x="127.9" y="645.7" font-size="18" font-weight="normal" fill="#348036" stroke="#348036" stroke-width="1.0"><tspan font-size="18" dy="0">CO</tspan><tspan font-size="11.5" dy="7">3</tspan><tspan font-size="10" dy="-16" dx="-5.5">-</tspan></text>
<rect x="769" y="39.5" width="470" height="211.0" fill="#fbfbfb"/>
<rect x="772.5" y="39.5" width="34.5" height="211.0" fill="#fcd88c"/>
<rect x="807" y="39.5" width="221.2" height="211.0" fill="#eeaa7c"/>
<rect x="1028.2" y="39.5" width="210.8" height="211.0" fill="#e3e3e3"/>
<line x1="772.5" y1="251" x2="1239" y2="251" stroke="#555" stroke-opacity="0.42" stroke-width="1.5" stroke-dasharray="2.2 3.1"/>
<line x1="772.5" y1="180.5" x2="1239" y2="180.5" stroke="#555" stroke-opacity="0.42" stroke-width="1.5" stroke-dasharray="2.2 3.1"/>
<line x1="772.5" y1="110" x2="1239" y2="110" stroke="#555" stroke-opacity="0.42" stroke-width="1.5" stroke-dasharray="2.2 3.1"/>
<line x1="772.5" y1="39.5" x2="772.5" y2="250.5" stroke="#555" stroke-opacity="0.42" stroke-width="1.4" stroke-dasharray="2.2 3.1"/>
<line x1="865.6" y1="39.5" x2="865.6" y2="250.5" stroke="#555" stroke-opacity="0.42" stroke-width="1.4" stroke-dasharray="2.2 3.1"/>
<line x1="958.8" y1="39.5" x2="958.8" y2="250.5" stroke="#555" stroke-opacity="0.42" stroke-width="1.4" stroke-dasharray="2.2 3.1"/>
<line x1="1051.9" y1="39.5" x2="1051.9" y2="250.5" stroke="#555" stroke-opacity="0.42" stroke-width="1.4" stroke-dasharray="2.2 3.1"/>
<line x1="1145" y1="39.5" x2="1145" y2="250.5" stroke="#555" stroke-opacity="0.42" stroke-width="1.4" stroke-dasharray="2.2 3.1"/>
<path d="M772 192 L776 182.5 L780 174.6 L783.3 169.2 L786.6 163.7 L789.9 157.4 L792.7 153.5 L795.4 149.8 L798.2 146.5 L801.5 143.1 L804.8 140.9 L808.1 138.1 L811.1 135.9 L814.1 134.6 L817 132.9 L820 131.2 L823 130.1 L825.8 128.1 L828.5 126.9 L831.3 126.7 L834.1 125.1 L836.8 123.8 L839.6 122.8 L842.4 122.1 L845.1 122 L847.9 120.5 L850.7 119.7 L853.4 119.4 L856.2 118.6 L859 118.2 L861.7 117.4 L864.5 116.2 L867.1 115.4 L869.6 115.4 L872.2 114.9 L874.7 113.3 L877.3 113.3 L879.8 112.8 L882.4 112 L884.9 110.9 L887.5 110.9 L890 110.1 L892.6 109 L895.1 108.8 L897.7 107.7 L900.4 107 L903.2 106.8 L905.9 106.3 L908.6 105.9 L911.4 105.6 L914.1 105.3 L916.8 105 L919.5 104.5 L922.3 104 L925 103.3 L927.6 102.4 L930.2 101.9 L932.8 102 L935.5 101.5 L938.1 101.3 L940.7 100.3 L943.3 100 L945.9 100.3 L948.5 99.6 L951.2 99.3 L953.8 98.4 L956.4 98.3 L959 98.4 L961.6 98 L964.1 98.2 L966.7 97.2 L969.2 97.3 L971.8 97.5 L974.3 97 L976.9 97.2 L979.4 96.8 L982 96.3 L984.6 96.1 L987.1 96.8 L989.7 95.8 L992.2 95.7 L994.8 95.7 L997.3 95.9 L999.9 95.9 L1002.4 95.4 L1005 95.3 L1007.6 95.4 L1010.1 94.7 L1012.7 94.7 L1015.2 94.8 L1017.8 94.6 L1020.3 93.9 L1022.9 93.8 L1025.4 93.7 L1028 94.1 L1030.6 94 L1033.2 94.2 L1035.7 93.8 L1038.3 93.2 L1040.9 93.6 L1043.5 93.7 L1046 93 L1048.6 92.5 L1051.2 92.8 L1053.8 92.6 L1056.3 92.4 L1058.9 92.2 L1061.5 92.1 L1064.1 92.8 L1066.7 91.8 L1069.2 92.3 L1071.8 91.8 L1074.4 91.7 L1077 92.2 L1079.5 91.5 L1082.1 91.3 L1084.7 91.5 L1087.3 91.6 L1089.8 91.3 L1092.4 91.6 L1095 91 L1097.5 91.1 L1100.1 91.2 L1102.6 90.9 L1105.1 91.2 L1107.6 90.9 L1110.2 90.5 L1112.7 90.5 L1115.2 91.1 L1117.7 91 L1120.3 91.2 L1122.8 90.9 L1125.3 90.7 L1127.8 90.3 L1130.4 90.9 L1132.9 90.1 L1135.4 90.4 L1137.9 90.1 L1140.5 90.3 L1143 90.2 L1145.5 90.3 L1148.1 90.5 L1150.6 90.3 L1153.1 90 L1155.6 90.5 L1158.2 90.4 L1160.7 90.4 L1163.2 89.6 L1165.7 90.1 L1168.3 90.4 L1170.8 89.7 L1173.3 89.6 L1175.8 90.2 L1178.4 89.7 L1180.9 89.7 L1183.4 90.1 L1185.9 89.6 L1188.5 89.4 L1191 89.3 L1193.5 89.4 L1196.1 89.8 L1198.6 89.4 L1201.1 89.8 L1203.6 89 L1206.2 89.2 L1208.7 89.5 L1211.2 89.3 L1213.7 89.3 L1216.3 89.7 L1218.8 89 L1221.3 88.9 L1223.8 88.7 L1226.4 89.1 L1228.9 88.9 L1231.4 89 L1233.9 88.5 L1236.5 88.4 L1239 88.9" fill="none" stroke="#383838" stroke-width="2.3" stroke-linejoin="round" stroke-linecap="round" clip-path="url(#c10)"/>
<path d="M771.6 177 L774.1 172.4 L776.6 168.6 L779.1 164.8 L781.6 161.7 L784.5 158.2 L787.4 155.6 L790.3 151.8 L793.2 149.5 L795.9 148.6 L798.5 146.9 L801.2 146.1 L803.8 144.7 L806.5 142.6 L809.3 141.7 L812 142.4 L814.8 141.2 L817.5 140.6 L820.3 141.3 L823 141.1 L825.8 140.7 L828.5 140.5 L831.3 139.1 L833.9 138.9 L836.4 139 L839 140.2 L841.5 139 L844.1 139 L846.6 138.8 L849.2 138.9 L851.7 138.9 L854.3 139.3 L856.8 139 L859.4 139.2 L861.9 140.1 L864.5 139 L867 140 L869.5 140 L872.1 139.8 L874.6 139.9 L877.1 140.2 L879.6 140 L882.1 139.6 L884.7 139.8 L887.2 139.8 L889.7 140.1 L892.2 141 L894.8 140.2 L897.3 139.8 L899.8 140.5 L902.3 141 L904.8 140.6 L907.4 141 L909.9 140.2 L912.4 140.2 L914.9 141.1 L917.4 140.4 L920 140.8 L922.5 141 L925 140.8 L927.5 140.7 L930 140.7 L932.5 142.2 L935 141.9 L937.6 142.4 L940.1 141.9 L942.6 142.6 L945.1 142.6 L947.6 142.4 L950.1 142.4 L952.6 142.4 L955.1 142.2 L957.7 142.5 L960.2 143.1 L962.7 142.5 L965.2 143.5 L967.7 143.1 L970.2 143.4 L972.7 143.8 L975.2 143.6 L977.8 143 L980.3 143.3 L982.8 143.1 L985.3 143.2 L987.8 144.6 L990.3 144.2 L992.8 144.9 L995.3 144.7 L997.9 144.2 L1000.4 145.2 L1002.9 145.3 L1005.4 144.7 L1007.9 144.3 L1010.4 144.8 L1012.9 144.7 L1015.4 145.1 L1018 144.8 L1020.5 145.8 L1023 146.2 L1025.5 145.3 L1028 146.2 L1030.6 146 L1033.2 145.9 L1035.7 146.5 L1038.3 145.8 L1040.9 146.5 L1043.5 145.5 L1046 146.8 L1048.6 145.8 L1051.2 145.6 L1053.8 146.9 L1056.3 146.7 L1058.9 146.7 L1061.5 146.9 L1064.1 146.4 L1066.7 146.1 L1069.2 146.4 L1071.8 147.4 L1074.4 147.4 L1077 146.4 L1079.5 146.8 L1082.1 146.9 L1084.7 147.6 L1087.3 146.3 L1089.8 147.6 L1092.4 146.8 L1095 147.3 L1097.5 146.8 L1100.1 146.8 L1102.6 148 L1105.1 147.5 L1107.6 148.2 L1110.2 148.2 L1112.7 148.1 L1115.2 147.2 L1117.7 148 L1120.3 148.6 L1122.8 148 L1125.3 147.5 L1127.8 147.7 L1130.4 148.9 L1132.9 149 L1135.4 148 L1137.9 148.2 L1140.5 148.8 L1143 148.6 L1145.5 148.2 L1148.1 149.4 L1150.6 149 L1153.1 148.7 L1155.6 148.3 L1158.2 149.1 L1160.7 149.5 L1163.2 148.7 L1165.7 148.7 L1168.3 149.7 L1170.8 150 L1173.3 149.3 L1175.8 149.5 L1178.4 149.8 L1180.9 149.7 L1183.4 149.3 L1185.9 149.5 L1188.5 149.5 L1191 149.6 L1193.5 149.5 L1196.1 150 L1198.6 149.8 L1201.1 150.8 L1203.6 150.1 L1206.2 151.1 L1208.7 151 L1211.2 150.3 L1213.7 150.2 L1216.3 150.8 L1218.8 150.8 L1221.3 150.9 L1223.8 150.4 L1226.4 151.1 L1228.9 151.5 L1231.4 151.1 L1233.9 150.9 L1236.5 151.9 L1239 151.4" fill="none" stroke="#348036" stroke-width="2.3" stroke-linejoin="round" stroke-linecap="round" clip-path="url(#c10)"/>
<path d="M771.6 159.4 L775 151.2 L778.3 143 L781.1 139.4 L783.8 134.8 L786.6 131.4 L789.9 130.5 L793.2 129.3 L795.9 128.6 L798.6 129.5 L801.3 129.8 L804 130 L806.7 130.9 L809.4 130.6 L812.1 130.8 L814.8 131.8 L817.6 131.9 L820.5 131.9 L823.3 132.4 L826.2 133.1 L829 133 L831.9 134.3 L834.7 134.9 L837.4 134.2 L840 134.4 L842.7 134.2 L845.3 133.3 L848 133.2 L850.8 133 L853.5 133.6 L856.2 135.6 L859 135.3 L861.8 135.9 L864.5 137.6 L867.1 137.8 L869.6 137.4 L872.2 138.1 L874.7 138.4 L877.3 138.9 L879.8 139 L882.4 140.2 L884.9 140.3 L887.5 140.9 L890 141 L892.6 141.4 L895.1 141.7 L897.7 143.3 L900.4 143.4 L903.2 143.4 L905.9 143 L908.6 143.3 L911.4 143.5 L914.1 144 L916.8 143.9 L919.5 144.5 L922.3 144.6 L925 144.9 L927.5 145.7 L930.1 145.7 L932.6 145.9 L935.2 146 L937.7 146.4 L940.3 147 L942.8 146.5 L945.4 146.4 L947.9 147.2 L950.5 147.3 L953 148 L955.5 147.3 L958.1 148.6 L960.6 147.6 L963.2 148.6 L965.7 148.6 L968.3 148.7 L970.8 149.7 L973.4 149.6 L975.9 149.1 L978.5 149.8 L981 150.2 L983.6 149.7 L986.2 150 L988.8 151.1 L991.4 151.6 L994.1 151.5 L996.7 151.8 L999.3 152.2 L1001.9 152.2 L1004.5 153.3 L1007.1 153.8 L1009.7 153.4 L1012.3 153.1 L1014.9 153.9 L1017.6 154.8 L1020.2 154.4 L1022.8 154.4 L1025.4 154.8 L1028 155.9 L1030.6 155.9 L1033.2 155.5 L1035.7 156.1 L1038.3 156.4 L1040.9 156.8 L1043.5 156.7 L1046 156.3 L1048.6 156.9 L1051.2 157.2 L1053.8 157.2 L1056.3 157.1 L1058.9 157 L1061.5 157 L1064.1 157.6 L1066.7 157.4 L1069.2 157.6 L1071.8 157 L1074.4 157 L1077 157.3 L1079.5 157.9 L1082.1 158 L1084.7 157.5 L1087.3 157.6 L1089.8 158.8 L1092.4 157.7 L1095 159 L1097.5 158.9 L1100.1 158.7 L1102.6 159.3 L1105.1 158.9 L1107.6 158.1 L1110.2 159.5 L1112.7 158.8 L1115.2 159.6 L1117.7 159.5 L1120.3 158.6 L1122.8 158.6 L1125.3 158.6 L1127.8 159.8 L1130.4 159.8 L1132.9 159.1 L1135.4 159 L1137.9 159.5 L1140.5 160.1 L1143 160.1 L1145.5 160.4 L1148.1 160.6 L1150.6 160.4 L1153.1 160.6 L1155.6 159.5 L1158.2 159.6 L1160.7 160.8 L1163.2 160.6 L1165.7 160.2 L1168.3 160 L1170.8 160.4 L1173.3 160.5 L1175.8 160.8 L1178.4 160.8 L1180.9 160.5 L1183.4 160.4 L1185.9 160.6 L1188.5 160.6 L1191 160.6 L1193.5 161.2 L1196.1 160.8 L1198.6 161.8 L1201.1 161.6 L1203.6 161.5 L1206.2 161.8 L1208.7 161.3 L1211.2 161.1 L1213.7 161.3 L1216.3 161.7 L1218.8 161.8 L1221.3 161.7 L1223.8 161.9 L1226.4 162.7 L1228.9 161.6 L1231.4 162.3 L1233.9 162.3 L1236.5 162.2 L1239 162.6" fill="none" stroke="#e23ed8" stroke-width="2.3" stroke-linejoin="round" stroke-linecap="round" clip-path="url(#c10)"/>
<path d="M771.6 127.9 L775 134.6 L778.3 144.6 L781.6 145 L784.9 145.1 L787.6 144.4 L790.2 143 L792.9 143.1 L795.5 141.8 L798.2 140.9 L801 140.3 L803.7 140.6 L806.5 139.9 L809.3 139.8 L812 139.9 L814.8 139.9 L817.5 140.1 L820.3 139.5 L823 139.7 L825.8 140.3 L828.5 141 L831.3 141.7 L834.1 141.9 L836.9 142.3 L839.6 142.1 L842.4 142.5 L845.2 142.2 L848 142.5 L850.8 143 L853.5 144 L856.2 144.7 L859 145.2 L861.8 145.5 L864.5 146.1 L867.1 146.2 L869.6 147.4 L872.2 147.4 L874.7 148.1 L877.3 148.5 L879.8 148.2 L882.4 148.3 L884.9 148.9 L887.5 150.2 L890 150.4 L892.6 150.2 L895.1 151.1 L897.7 150.9 L900.4 151.9 L903.2 151.2 L905.9 152.4 L908.6 153.1 L911.4 152.6 L914.1 153 L916.8 152.9 L919.5 153.4 L922.3 153.7 L925 154.1 L927.5 153.9 L930.1 154.4 L932.6 154.3 L935.2 155 L937.7 155 L940.3 154.9 L942.8 156 L945.4 155.3 L947.9 155.7 L950.5 156.4 L953 156.3 L955.5 156.7 L958.1 156.4 L960.6 156.9 L963.2 155.9 L965.7 157 L968.3 156.6 L970.8 156.7 L973.4 157.5 L975.9 157.6 L978.5 157.1 L981 157.3 L983.6 157.4 L986.2 158.6 L988.8 158.3 L991.4 158.1 L994.1 158.7 L996.7 158.2 L999.3 158.7 L1001.9 159.3 L1004.5 160.2 L1007.1 160.2 L1009.7 160 L1012.3 160.5 L1014.9 160 L1017.6 160.9 L1020.2 161.5 L1022.8 160.6 L1025.4 161.9 L1028 162.2 L1030.6 161.5 L1033.2 162.3 L1035.7 162.8 L1038.3 161.8 L1040.9 162.5 L1043.5 162.9 L1046 163.3 L1048.6 162.8 L1051.2 163.7 L1053.8 163.8 L1056.3 164.2 L1058.9 164.3 L1061.5 164.7 L1064.1 164.5 L1066.7 164.6 L1069.2 164.7 L1071.8 164.8 L1074.4 165.1 L1077 165.4 L1079.5 165.4 L1082.1 165.3 L1084.7 165.8 L1087.3 166.8 L1089.8 166.1 L1092.4 167.3 L1095 167.3 L1097.5 166.8 L1100.1 166.6 L1102.6 167.6 L1105.1 167.8 L1107.6 167 L1110.2 167.6 L1112.7 167.8 L1115.2 167.8 L1117.7 167.2 L1120.3 167.4 L1122.8 168.2 L1125.3 168.2 L1127.8 168.3 L1130.4 167.9 L1132.9 168.8 L1135.4 168.8 L1137.9 168.4 L1140.5 169.1 L1143 168.4 L1145.5 168.8 L1148.1 168.9 L1150.6 169.6 L1153.1 169.7 L1155.6 168.9 L1158.2 169.6 L1160.7 169.1 L1163.2 170 L1165.7 170.1 L1168.3 169.9 L1170.8 169.1 L1173.3 169.6 L1175.8 169.5 L1178.4 170 L1180.9 169.5 L1183.4 169.6 L1185.9 169.8 L1188.5 170.9 L1191 170.7 L1193.5 171.1 L1196.1 171.4 L1198.6 170.9 L1201.1 171.4 L1203.6 170.9 L1206.2 171.3 L1208.7 170.8 L1211.2 171.2 L1213.7 170.9 L1216.3 171.5 L1218.8 172.3 L1221.3 172.4 L1223.8 172.2 L1226.4 171.3 L1228.9 172.7 L1231.4 172.1 L1233.9 172.4 L1236.5 172.2 L1239 172.4" fill="none" stroke="#3636dc" stroke-width="2.3" stroke-linejoin="round" stroke-linecap="round" clip-path="url(#c10)"/>
<path d="M771.6 65.7 L774.1 70.4 L776.6 75.3 L779.4 79.1 L782.1 83.1 L784.9 86.2 L787.4 90 L789.9 92.3 L792.4 95.5 L794.9 98.4 L798.2 103 L801.5 106.6 L804.8 111.1 L807.3 114.1 L809.8 116.4 L812.3 119.2 L814.8 121.1 L818.1 124.1 L821.4 125 L824.7 128.2 L827.2 129.6 L829.7 131 L832.2 133.8 L834.7 134.8 L837.5 136 L840.2 137.1 L843 137.8 L845.7 138.8 L848.5 139.6 L851.2 141.7 L853.9 141.6 L856.5 142.7 L859.2 143.6 L861.8 145.8 L864.5 146.3 L867.2 147.9 L870 149.3 L872.8 149.9 L875.5 151 L878.2 152.2 L881 153.3 L883.8 154.7 L886.6 156.2 L889.4 156.5 L892.1 157.8 L894.9 159 L897.7 159.9 L900.5 160.2 L903.2 160.6 L906 160.5 L908.8 161.4 L911.5 162.6 L914.3 162.6 L917 163.4 L919.6 163.3 L922.3 164.2 L925 164.1 L927.5 165.3 L930.1 165.7 L932.6 164.9 L935.2 166.2 L937.7 165.7 L940.3 167.3 L942.8 166.6 L945.4 166.9 L947.9 168.3 L950.5 168.3 L953 167.8 L955.5 168.8 L958.1 169.6 L960.6 169.1 L963.2 170.2 L965.7 170 L968.3 170.5 L970.8 170.8 L973.4 170.7 L975.9 171.5 L978.5 172.1 L981 172.6 L983.6 172.9 L986.2 172.7 L988.8 173.7 L991.4 173.7 L994.1 174.9 L996.7 174.2 L999.3 175.5 L1001.9 175 L1004.5 176 L1007.1 176.1 L1009.7 176.7 L1012.3 177.4 L1014.9 177.9 L1017.6 177.2 L1020.2 178.9 L1022.8 178.9 L1025.4 178.5 L1028 179.8 L1030.6 180.2 L1033.2 179.9 L1035.7 180.8 L1038.3 180.1 L1040.9 180.8 L1043.5 180.8 L1046 181.8 L1048.6 181.4 L1051.2 181.6 L1053.8 182.9 L1056.3 182.3 L1058.9 182.7 L1061.5 183.3 L1064.1 182.8 L1066.7 184 L1069.2 184.1 L1071.8 184.1 L1074.4 184.8 L1077 185.1 L1079.5 184.3 L1082.1 185.8 L1084.7 185.5 L1087.3 186.1 L1089.8 186.2 L1092.4 186.9 L1095 186.9 L1097.6 186.3 L1100.1 186.4 L1102.7 186.9 L1105.2 186.9 L1107.8 187.1 L1110.3 187.7 L1112.9 187.8 L1115.4 187.9 L1118 188.6 L1120.5 187.9 L1123.1 188.5 L1125.6 188.7 L1128.2 189.1 L1130.7 189.7 L1133.3 189.5 L1135.8 188.8 L1138.4 189.9 L1140.9 189.7 L1143.5 190 L1146 190.4 L1148.6 190.1 L1151.1 191.1 L1153.7 190.7 L1156.2 190.9 L1158.8 191.3 L1161.3 190.8 L1163.9 191.4 L1166.4 192.5 L1169 191.5 L1171.5 192.1 L1174 193 L1176.5 192.9 L1179 193.4 L1181.5 194 L1184 194.3 L1186.5 194 L1189 194.2 L1191.5 194 L1194 195.4 L1196.5 194.8 L1199 195.6 L1201.5 195.4 L1204 196.6 L1206.5 196.5 L1209 196.3 L1211.5 197.3 L1214 196.9 L1216.5 197.6 L1219 197.8 L1221.5 198.7 L1224 198.8 L1226.5 198.6 L1229 199.1 L1231.5 199.5 L1234 200.4 L1236.5 200 L1239 200.5" fill="none" stroke="#2a2878" stroke-width="2.3" stroke-linejoin="round" stroke-linecap="round" clip-path="url(#c10)"/>
<line x1="769" y1="229.8" x2="772.2" y2="229.8" stroke="#333" stroke-width="1.3"/>
<line x1="769" y1="217.4" x2="772.2" y2="217.4" stroke="#333" stroke-width="1.3"/>
<line x1="769" y1="208.6" x2="772.2" y2="208.6" stroke="#333" stroke-width="1.3"/>
<line x1="769" y1="201.7" x2="772.2" y2="201.7" stroke="#333" stroke-width="1.3"/>
<line x1="769" y1="196.1" x2="772.2" y2="196.1" stroke="#333" stroke-width="1.3"/>
<line x1="769" y1="191.4" x2="772.2" y2="191.4" stroke="#333" stroke-width="1.3"/>
<line x1="769" y1="187.3" x2="772.2" y2="187.3" stroke="#333" stroke-width="1.3"/>
<line x1="769" y1="183.7" x2="772.2" y2="183.7" stroke="#333" stroke-width="1.3"/>
<line x1="769" y1="180.5" x2="775" y2="180.5" stroke="#333" stroke-width="1.3"/>
<line x1="769" y1="159.3" x2="772.2" y2="159.3" stroke="#333" stroke-width="1.3"/>
<line x1="769" y1="146.9" x2="772.2" y2="146.9" stroke="#333" stroke-width="1.3"/>
<line x1="769" y1="138.1" x2="772.2" y2="138.1" stroke="#333" stroke-width="1.3"/>
<line x1="769" y1="131.2" x2="772.2" y2="131.2" stroke="#333" stroke-width="1.3"/>
<line x1="769" y1="125.6" x2="772.2" y2="125.6" stroke="#333" stroke-width="1.3"/>
<line x1="769" y1="120.9" x2="772.2" y2="120.9" stroke="#333" stroke-width="1.3"/>
<line x1="769" y1="116.8" x2="772.2" y2="116.8" stroke="#333" stroke-width="1.3"/>
<line x1="769" y1="113.2" x2="772.2" y2="113.2" stroke="#333" stroke-width="1.3"/>
<line x1="769" y1="110" x2="775" y2="110" stroke="#333" stroke-width="1.3"/>
<line x1="769" y1="88.8" x2="772.2" y2="88.8" stroke="#333" stroke-width="1.3"/>
<line x1="769" y1="76.4" x2="772.2" y2="76.4" stroke="#333" stroke-width="1.3"/>
<line x1="769" y1="67.6" x2="772.2" y2="67.6" stroke="#333" stroke-width="1.3"/>
<line x1="769" y1="60.7" x2="772.2" y2="60.7" stroke="#333" stroke-width="1.3"/>
<line x1="769" y1="55.1" x2="772.2" y2="55.1" stroke="#333" stroke-width="1.3"/>
<line x1="769" y1="50.4" x2="772.2" y2="50.4" stroke="#333" stroke-width="1.3"/>
<line x1="769" y1="46.3" x2="772.2" y2="46.3" stroke="#333" stroke-width="1.3"/>
<line x1="769" y1="42.7" x2="772.2" y2="42.7" stroke="#333" stroke-width="1.3"/>
<line x1="769" y1="39.5" x2="775" y2="39.5" stroke="#333" stroke-width="1.3"/>
<rect x="769" y="39.5" width="470" height="211.0" fill="none" stroke="#3a3a3a" stroke-width="1.7"/>
<text x="735.8" y="258.6" font-size="17" fill="#222" stroke="#222" stroke-width="0.4">10</text>
<text x="754.8" y="248.2" font-size="10.5" fill="#222" stroke="#222" stroke-width="0.25">2</text>
<text x="735.8" y="188.1" font-size="17" fill="#222" stroke="#222" stroke-width="0.4">10</text>
<text x="754.8" y="177.7" font-size="10.5" fill="#222" stroke="#222" stroke-width="0.25">3</text>
<text x="735.8" y="117.6" font-size="17" fill="#222" stroke="#222" stroke-width="0.4">10</text>
<text x="754.8" y="107.2" font-size="10.5" fill="#222" stroke="#222" stroke-width="0.25">4</text>
<text x="735.8" y="47.1" font-size="17" fill="#222" stroke="#222" stroke-width="0.4">10</text>
<text x="754.8" y="36.7" font-size="10.5" fill="#222" stroke="#222" stroke-width="0.25">5</text>
<rect x="808" y="55.4" width="11.5" height="2.3" fill="#2a2878"/>
<text x="823.5" y="63.4" font-size="18" font-weight="normal" fill="#2a2878" stroke="#2a2878" stroke-width="1.0"><tspan font-size="18" dy="0">NS</tspan><tspan font-size="11.5" dy="7">2</tspan><tspan font-size="18" dy="-7">O</tspan><tspan font-size="11.5" dy="7">4</tspan><tspan font-size="18" dy="-7">C</tspan><tspan font-size="11.5" dy="7">2</tspan><tspan font-size="18" dy="-7">F</tspan><tspan font-size="11.5" dy="7">6</tspan><tspan font-size="10" dy="-16" dx="-5.5">-</tspan></text>
<rect x="1122.9" y="64.9" width="11.5" height="2.3" fill="#383838"/>
<text x="1138.4" y="72.9" font-size="18" font-weight="normal" fill="#383838" stroke="#383838" stroke-width="1.0"><tspan font-size="18" dy="0">Li</tspan><tspan font-size="10" dy="-9">-</tspan></text>
<rect x="977" y="114.5" width="11.5" height="2.3" fill="#348036"/>
<text x="992.5" y="122.5" font-size="18" font-weight="normal" fill="#348036" stroke="#348036" stroke-width="1.0"><tspan font-size="18" dy="0">CO</tspan><tspan font-size="11.5" dy="7">3</tspan><tspan font-size="10" dy="-16" dx="-5.5">-</tspan></text>
<rect x="1122.9" y="129.4" width="11.5" height="2.3" fill="#e23ed8"/>
<text x="1138.4" y="137.4" font-size="18" font-weight="normal" fill="#e23ed8" stroke="#e23ed8" stroke-width="1.0"><tspan font-size="18" dy="0">C</tspan><tspan font-size="11.5" dy="7">2</tspan><tspan font-size="18" dy="-7">H</tspan><tspan font-size="11.5" dy="7">2</tspan><tspan font-size="18" dy="-7">O</tspan><tspan font-size="10" dy="-9">-</tspan></text>
<rect x="1122.9" y="178.5" width="11.5" height="2.3" fill="#3636dc"/>
<text x="1138.4" y="186.5" font-size="18" font-weight="normal" fill="#3636dc" stroke="#3636dc" stroke-width="1.0"><tspan font-size="18" dy="0">CHO</tspan><tspan font-size="11.5" dy="7">2</tspan><tspan font-size="10" dy="-16" dx="-5.5">-</tspan></text>
<rect x="769" y="267.5" width="470" height="210.5" fill="#fbfbfb"/>
<rect x="772.5" y="267.5" width="33.2" height="210.5" fill="#fcd88c"/>
<rect x="805.7" y="267.5" width="140.3" height="210.5" fill="#c9c9f8"/>
<rect x="946" y="267.5" width="106.6" height="210.5" fill="#eeaa7c"/>
<rect x="1052.6" y="267.5" width="186.4" height="210.5" fill="#e3e3e3"/>
<line x1="772.5" y1="478.2" x2="1239" y2="478.2" stroke="#555" stroke-opacity="0.42" stroke-width="1.5" stroke-dasharray="2.2 3.1"/>
<line x1="772.5" y1="408" x2="1239" y2="408" stroke="#555" stroke-opacity="0.42" stroke-width="1.5" stroke-dasharray="2.2 3.1"/>
<line x1="772.5" y1="337.8" x2="1239" y2="337.8" stroke="#555" stroke-opacity="0.42" stroke-width="1.5" stroke-dasharray="2.2 3.1"/>
<line x1="772.5" y1="267.5" x2="772.5" y2="478" stroke="#555" stroke-opacity="0.42" stroke-width="1.4" stroke-dasharray="2.2 3.1"/>
<line x1="865.6" y1="267.5" x2="865.6" y2="478" stroke="#555" stroke-opacity="0.42" stroke-width="1.4" stroke-dasharray="2.2 3.1"/>
<line x1="958.8" y1="267.5" x2="958.8" y2="478" stroke="#555" stroke-opacity="0.42" stroke-width="1.4" stroke-dasharray="2.2 3.1"/>
<line x1="1051.9" y1="267.5" x2="1051.9" y2="478" stroke="#555" stroke-opacity="0.42" stroke-width="1.4" stroke-dasharray="2.2 3.1"/>
<line x1="1145" y1="267.5" x2="1145" y2="478" stroke="#555" stroke-opacity="0.42" stroke-width="1.4" stroke-dasharray="2.2 3.1"/>
<path d="M771.7 404.8 L776.5 402.8 L779 398.8 L781.5 394.9 L784 391.8 L787.2 387 L790.5 382.7 L793.7 378.1 L796.6 375 L799.5 372.5 L802.3 369.5 L805.2 366.9 L808.1 365.2 L810.9 363.7 L813.8 361.7 L816.7 359.9 L819.5 358.2 L822.4 357.2 L825 356 L827.5 355.9 L830.1 355.2 L832.6 354 L835.2 354.1 L837.7 352.7 L840.3 352.9 L842.8 352.2 L845.4 350.9 L848.1 351 L850.9 350.6 L853.6 349.6 L856.3 349.8 L859 348.8 L861.8 349.2 L864.5 348.6 L867.2 348.4 L869.8 346.9 L872.5 346.7 L875.1 346.5 L877.8 345.9 L880.4 345 L883.1 345.2 L885.7 344.6 L888.4 343.6 L891 342.9 L893.7 342.9 L896.3 342.1 L899 341.9 L901.6 341.1 L904.1 340.4 L906.7 339.5 L909.3 339 L911.9 338.7 L914.4 338.4 L917 337.5 L919.6 337.3 L922.1 336.5 L924.7 336.2 L927.3 335.4 L929.9 334.5 L932.4 333.7 L935 333.1 L937.6 332.4 L940.1 332.7 L942.7 332.1 L945.3 331.4 L947.9 330.1 L950.4 330.1 L953 328.9 L955.5 329.5 L958.1 329 L960.6 328.9 L963.2 328.5 L965.7 328.1 L968.3 328.3 L970.8 328.2 L973.4 327.2 L975.9 327.2 L978.5 327.3 L981 327 L983.5 326.5 L986.1 326.3 L988.6 326.6 L991.2 325.7 L993.7 325.4 L996.3 325.6 L998.8 325 L1001.4 325.4 L1003.9 324.6 L1006.5 325 L1009 324.2 L1011.6 324.8 L1014.1 324.9 L1016.7 325 L1019.3 324.6 L1021.8 324.8 L1024.4 324.8 L1027 325.1 L1029.5 325.7 L1032.1 325.3 L1034.6 325.6 L1037.2 326.1 L1039.8 325.9 L1042.3 326.2 L1044.9 326.3 L1047.5 326.9 L1050 326.5 L1052.6 327.5 L1055.2 327.3 L1057.9 327.7 L1060.5 327.7 L1063.2 327.9 L1065.8 328.6 L1068.5 328.8 L1071.1 328.9 L1073.8 328.4 L1076.5 329.2 L1079.1 329.8 L1081.8 329.7 L1084.4 329.8 L1087 330.2 L1089.7 329.9 L1092.3 330.7 L1095 331 L1097.6 330.3 L1100.1 330.8 L1102.7 330.9 L1105.2 330.7 L1107.8 331.1 L1110.3 331.4 L1112.9 331.4 L1115.4 330.9 L1118 330.8 L1120.5 331.5 L1123.1 331.3 L1125.6 331.6 L1128.2 331.7 L1130.7 331.1 L1133.3 331.5 L1135.8 331.2 L1138.4 331.8 L1140.9 331.7 L1143.5 331.3 L1146 331.6 L1148.6 331.7 L1151.1 331.4 L1153.7 331.4 L1156.2 331.8 L1158.8 331.4 L1161.3 331.9 L1163.9 332.4 L1166.4 332.3 L1169 331.6 L1171.5 332.4 L1174 332.4 L1176.5 332.5 L1179 331.9 L1181.5 332.7 L1184 332.2 L1186.5 332.9 L1189 332.5 L1191.5 332.6 L1194 332.5 L1196.5 333.3 L1199 332.8 L1201.5 333.5 L1204 333.2 L1206.5 332.9 L1209 333.5 L1211.5 333.5 L1214 333.1 L1216.5 334 L1219 333.5 L1221.5 333.3 L1224 334.2 L1226.5 334.2 L1229 333.9 L1231.5 333.8 L1234 334.3 L1236.5 334.4 L1239 334.4" fill="none" stroke="#383838" stroke-width="2.3" stroke-linejoin="round" stroke-linecap="round" clip-path="url(#c11)"/>
<path d="M771.7 427.8 L774.6 422.3 L777.4 415.7 L780.3 410.3 L783 406.8 L785.7 404 L788.3 400.5 L791 397.3 L793.7 392.7 L796.6 389.4 L799.5 385 L802.3 381.4 L805.2 378 L808.1 375.4 L810.9 373.8 L813.8 372.5 L816.7 370.5 L819.5 368.1 L822.4 366.7 L825 366.3 L827.5 364.4 L830.1 364.8 L832.6 363.9 L835.2 362.7 L837.7 361.7 L840.3 362 L842.8 360.4 L845.4 359.3 L848.1 359.1 L850.9 359.8 L853.6 359.2 L856.3 359.2 L859 358.9 L861.8 358.3 L864.5 358.7 L867.3 357.6 L870 357.6 L872.8 357.8 L875.6 357.3 L878.3 357.4 L881.1 356.8 L883.9 356.7 L886.6 355.6 L889.4 355.6 L892.1 356.2 L894.8 356.4 L897.5 357.2 L900.2 357.5 L902.9 358.2 L905.5 359.2 L908.2 359.4 L910.9 359.9 L913.6 360.2 L916.3 360.8 L919 362.2 L921.7 362.7 L924.3 363.6 L927 363.9 L929.7 365.7 L932.3 365.8 L935 367 L938.4 371.4 L941.8 374.4 L944.6 388.3 L947.4 402.6 L950.2 416.8 L953 430.7 L955.8 435.5 L958.7 440.8 L961.5 446.8 L964.3 448.5 L967.1 450.1 L969.9 452.8 L972.7 454.3 L975.5 455.2 L978.2 457.2 L981 458.3 L983.5 461.2 L986 462.7 L988.5 464.6 L991 466.8 L993.5 469.4 L996 471.1 L998.5 473.8 L1001 476.4 L1003.5 477.9 L1006.8 480.6 L1010 484" fill="none" stroke="#348036" stroke-width="2.3" stroke-linejoin="round" stroke-linecap="round" clip-path="url(#c11)"/>
<path d="M771.7 381.9 L774.6 375.6 L777.4 370.6 L780.3 364.2 L783.5 360.1 L786.7 355.9 L789.9 351.6 L792.5 351 L795 350.9 L797.5 350.2 L800.1 350.5 L802.7 350.3 L805.2 350.7 L807.8 350.2 L810.4 350.3 L813 349.8 L815.6 349.4 L818.2 350 L820.8 349.9 L823.4 349.2 L826 348.7 L828.6 349.1 L831.2 348.9 L833.8 349.1 L836.4 348.8 L839 348.5 L841.6 348.5 L844.1 348.5 L846.7 348.3 L849.2 348.5 L851.8 349.8 L854.3 349.9 L856.9 349.4 L859.4 350.3 L862 350.1 L864.5 349.8 L867.2 351.2 L869.8 351.3 L872.5 352.1 L875.1 352.3 L877.8 352 L880.4 353.1 L883.1 353.7 L885.7 354.3 L888.4 354 L891 354.7 L893.7 355.4 L896.3 355.2 L899 356.4 L901.6 357.3 L904.2 357.4 L906.8 359 L909.4 359.8 L912 360.5 L914.6 362 L917.2 363.4 L919.8 363.9 L922.4 364.4 L925 365.8 L927.8 367 L930.6 368 L933.4 368.6 L936.2 368.6 L939 370.6 L941.8 377.1 L944.6 383.5 L947.4 390.6 L950.2 394 L953 398.2 L955.9 401.1 L958.7 405.4 L961.2 405.2 L963.7 406.3 L966.2 406.8 L968.8 407 L971.3 407.6 L973.8 409.3 L976.3 410 L978.8 409.6 L981.3 411 L983.9 411.9 L986.4 412.5 L988.9 413.1 L991.4 413.1 L993.9 414.2 L996.4 414.5 L998.9 415.7 L1001.5 416 L1004 416.8 L1006.5 417.5 L1009 417.6 L1011.6 418.9 L1014.1 419 L1016.7 420 L1019.3 421.8 L1021.8 422.1 L1024.4 423.3 L1027 424.1 L1029.5 424.6 L1032.1 425.9 L1034.6 427.2 L1037.2 427.4 L1039.8 428.3 L1042.3 429 L1044.9 429.9 L1047.5 431.6 L1050 432.7 L1052.6 434.4 L1055.1 434.1 L1057.6 435.6 L1060.1 434 L1062.6 434.5 L1065.1 435.2 L1067.6 436.3 L1070.2 438.7 L1072.7 437 L1075.2 438.3 L1077.7 437.8 L1080.2 438.3 L1082.7 440.4 L1085.2 441.2 L1087.7 441.5 L1091.3 445.5 L1095 448.1 L1097.7 448.6 L1100.3 447.7 L1103 447 L1105.7 446.9 L1108.3 449 L1111 447.5 L1113.7 447.3 L1116.3 449.6 L1119 448.1 L1121.7 449.9 L1124.3 448.9 L1127 449.8 L1129.6 448.9 L1132.2 450.3 L1134.9 450.5 L1137.5 450.7 L1140.1 450.6 L1142.8 452.3 L1145.4 453 L1148 451.8 L1150.6 451.7 L1153.2 452.7 L1155.9 454.4 L1158.5 453.4 L1161.1 454.9 L1163.8 453.5 L1166.4 455.8 L1169 454.4 L1171.6 454.8 L1174.2 456.4 L1176.9 455.7 L1179.5 456.3 L1182.1 455.3 L1184.8 456.6 L1187.4 455.6 L1190 456.2 L1192.6 456.2 L1195.2 457.7 L1197.9 457.3 L1200.5 456.8 L1203.1 457.8 L1205.8 457.1 L1208.4 457.6 L1211 457.1 L1213.5 457.4 L1216.1 456.4 L1218.6 458.7 L1221.2 457.9 L1223.7 458.6 L1226.3 458.1 L1228.8 456.5 L1231.4 456.8 L1233.9 459.3 L1236.5 458.9 L1239 458.4" fill="none" stroke="#e23ed8" stroke-width="2.3" stroke-linejoin="round" stroke-linecap="round" clip-path="url(#c11)"/>
<path d="M771.7 355 L774.5 362.6 L777.4 370.5 L780.7 368.9 L784 366.2 L787.2 364.3 L790.5 362.2 L793.7 360.3 L796.6 359.5 L799.5 359 L802.3 358.7 L805.2 358.6 L807.9 358.2 L810.6 357.9 L813.2 357.9 L815.9 358.2 L818.6 357.8 L821.3 357.5 L824 358.4 L826.6 358.1 L829.3 357.5 L832 357.5 L834.5 357.7 L837 359 L839.5 358.2 L842 359 L844.5 359.6 L847 358.7 L849.5 359.4 L852 359.7 L854.5 360.4 L857 359.8 L859.5 360.1 L862 360.3 L864.5 360.3 L867.2 361.5 L869.8 362.2 L872.5 362.3 L875.1 362.3 L877.8 363.6 L880.4 364.2 L883.1 364.6 L885.7 364.7 L888.4 365.8 L891 366.1 L893.7 366.6 L896.3 367 L899 367.2 L901.6 367.7 L904.2 368.4 L906.8 368.5 L909.4 368.3 L912 369.1 L914.6 369.4 L917.2 368.7 L919.8 369.1 L922.4 369.4 L925 369.4 L927.8 371.1 L930.6 371.9 L933.4 372.6 L936.2 374 L939 374 L941.8 379.4 L944.6 384.9 L947.4 390.8 L950.2 392.8 L953 393.9 L955.9 394.7 L958.7 396.5 L961.2 396.7 L963.7 398 L966.2 398.1 L968.8 398.8 L971.3 399.9 L973.8 400.8 L976.3 401.2 L978.8 401.4 L981.3 402.5 L983.9 402.7 L986.4 403 L988.9 403.9 L991.4 405.1 L993.9 405.6 L996.4 405.8 L998.9 407.2 L1001.5 407.8 L1004 407.8 L1006.5 409.2 L1009 409 L1011.6 409.5 L1014.1 410.8 L1016.7 412 L1019.3 412.4 L1021.8 413.1 L1024.4 413.8 L1027 414.3 L1029.5 415 L1032.1 415.9 L1034.6 416.8 L1037.2 418 L1039.8 417.8 L1042.3 418.7 L1044.9 420.3 L1047.5 420.7 L1050 420.1 L1052.6 421.8 L1055.1 423.1 L1057.6 424.5 L1060.1 422.9 L1062.6 425.9 L1065.1 426.2 L1067.6 425.5 L1070.2 426.9 L1072.7 428.5 L1075.2 427.5 L1077.7 429.5 L1080.2 429.8 L1082.7 429.1 L1085.2 430.4 L1087.7 431.5 L1091.3 429.3 L1095 430.2 L1097.6 428.7 L1100.1 429 L1102.7 430.4 L1105.2 430.6 L1107.8 430.4 L1110.3 430.8 L1112.9 431.7 L1115.4 433.3 L1118 431.3 L1120.6 434 L1123.1 434.5 L1125.7 434.2 L1128.2 434.9 L1130.8 434.1 L1133.3 436.1 L1135.9 435.9 L1138.4 436.1 L1141 435.9 L1143.5 435.4 L1146.1 436.9 L1148.6 437.2 L1151.2 435.3 L1153.7 436.4 L1156.3 437.2 L1158.8 436.5 L1161.4 436.4 L1163.9 436.8 L1166.5 436.5 L1169 436.9 L1171.5 437.9 L1174.1 438.4 L1176.6 438.9 L1179.2 438.2 L1181.7 437.9 L1184.3 440.3 L1186.8 439.6 L1189.4 440 L1191.9 440.2 L1194.5 439.3 L1197 440.3 L1199.5 440 L1202.1 441.5 L1204.6 442.4 L1207.2 440.7 L1209.7 443.4 L1212.3 442 L1214.8 442.3 L1217.4 443 L1219.9 444.8 L1222.5 446.2 L1225 446.9 L1227.8 443.6 L1230.6 443.2 L1233.4 443.5 L1236.2 442.2 L1239 440" fill="none" stroke="#3636dc" stroke-width="2.3" stroke-linejoin="round" stroke-linecap="round" clip-path="url(#c11)"/>
<path d="M771.7 309.1 L775 309.7 L778.4 311 L781.3 312.8 L784.1 315.6 L787 317.6 L789.9 319.9 L792.5 321.6 L795 322.6 L797.5 324.2 L800.1 326.1 L802.7 326.4 L805.2 328.5 L808.1 329.2 L810.9 331.6 L813.8 332.9 L816.7 333.6 L819.5 336 L822.4 337.2 L825.1 337.3 L827.9 338.7 L830.6 340.1 L833.4 341.3 L836.1 341.2 L838.9 342.3 L841.6 344 L844.1 344.9 L846.7 344.3 L849.2 344.9 L851.8 346.5 L854.3 346.5 L856.9 347.2 L859.4 348.6 L862 349 L864.5 349.5 L867.2 350.4 L869.8 350.8 L872.5 351.5 L875.1 351.9 L877.8 352.4 L880.4 352.2 L883.1 354 L885.7 354.6 L888.4 354.4 L891 355.4 L893.7 355.1 L896.3 356.4 L899 357.2 L901.6 357 L904.1 357.5 L906.7 358.5 L909.3 357.8 L911.9 358.6 L914.4 358.4 L917 359.1 L919.6 360.2 L922.1 360.1 L924.7 359.6 L927.3 361.1 L929.9 361.2 L932.4 361.3 L935 361.3 L937.6 362.3 L940.1 363.2 L942.7 364.8 L945.3 365 L947.9 367.2 L950.4 367 L953 368.8 L955.5 369.1 L958.1 369.2 L960.6 369.4 L963.2 370 L965.7 370.3 L968.3 371.6 L970.8 371.5 L973.4 371.7 L975.9 372.3 L978.5 372.4 L981 372.3 L983.5 372.8 L986.1 374.7 L988.6 375.2 L991.2 374.8 L993.7 376.1 L996.3 377 L998.8 377.8 L1001.4 377.3 L1003.9 378 L1006.5 379 L1009 379.9 L1011.6 380 L1014.1 381.7 L1016.7 382.6 L1019.3 383 L1021.8 384.4 L1024.4 384.6 L1027 386 L1029.5 386.2 L1032.1 387.1 L1034.6 387.9 L1037.2 389.2 L1039.8 390.2 L1042.3 389.9 L1044.9 391.5 L1047.5 392.6 L1050 393.2 L1052.6 393.4 L1055.2 394.2 L1057.9 395.6 L1060.5 395.3 L1063.2 396.9 L1065.8 396.7 L1068.5 397.5 L1071.1 398.4 L1073.8 399 L1076.5 399.5 L1079.1 400.5 L1081.8 400.8 L1084.4 401.8 L1087 402.1 L1089.7 402.6 L1092.3 402.5 L1095 404.3 L1097.6 403.7 L1100.1 404.1 L1102.7 404.2 L1105.2 405.4 L1107.8 405.5 L1110.3 406.2 L1112.9 406.9 L1115.4 407.4 L1118 407.6 L1120.6 408.1 L1123.1 407.8 L1125.7 407.7 L1128.2 409.1 L1130.8 409.8 L1133.3 409.5 L1135.9 410.5 L1138.4 410.4 L1141 410.5 L1143.6 411.7 L1146.2 411.2 L1148.8 412.2 L1151.4 413.2 L1154 412.9 L1156.6 414.1 L1159.2 414.4 L1161.8 414.7 L1164.4 415.5 L1167 416.6 L1169.6 417 L1172.2 417.5 L1174.8 418.3 L1177.4 418.3 L1180 419.1 L1182.6 418.6 L1185.1 419.5 L1187.7 419.7 L1190.3 419.8 L1192.8 420.2 L1195.4 420.6 L1198 420.3 L1200.5 420.8 L1203.1 420.5 L1205.7 420.2 L1208.2 421.1 L1210.8 421 L1213.3 421.1 L1215.9 420.6 L1218.5 421.3 L1221 421.1 L1223.6 421.6 L1226.2 422.3 L1228.7 421.6 L1231.3 421.3 L1233.9 421.6 L1236.4 422.3 L1239 422.4" fill="none" stroke="#2a2878" stroke-width="2.3" stroke-linejoin="round" stroke-linecap="round" clip-path="url(#c11)"/>
<line x1="769" y1="457.1" x2="772.2" y2="457.1" stroke="#333" stroke-width="1.3"/>
<line x1="769" y1="444.7" x2="772.2" y2="444.7" stroke="#333" stroke-width="1.3"/>
<line x1="769" y1="436" x2="772.2" y2="436" stroke="#333" stroke-width="1.3"/>
<line x1="769" y1="429.1" x2="772.2" y2="429.1" stroke="#333" stroke-width="1.3"/>
<line x1="769" y1="423.6" x2="772.2" y2="423.6" stroke="#333" stroke-width="1.3"/>
<line x1="769" y1="418.9" x2="772.2" y2="418.9" stroke="#333" stroke-width="1.3"/>
<line x1="769" y1="414.8" x2="772.2" y2="414.8" stroke="#333" stroke-width="1.3"/>
<line x1="769" y1="411.2" x2="772.2" y2="411.2" stroke="#333" stroke-width="1.3"/>
<line x1="769" y1="408" x2="775" y2="408" stroke="#333" stroke-width="1.3"/>
<line x1="769" y1="386.9" x2="772.2" y2="386.9" stroke="#333" stroke-width="1.3"/>
<line x1="769" y1="374.5" x2="772.2" y2="374.5" stroke="#333" stroke-width="1.3"/>
<line x1="769" y1="365.7" x2="772.2" y2="365.7" stroke="#333" stroke-width="1.3"/>
<line x1="769" y1="358.9" x2="772.2" y2="358.9" stroke="#333" stroke-width="1.3"/>
<line x1="769" y1="353.3" x2="772.2" y2="353.3" stroke="#333" stroke-width="1.3"/>
<line x1="769" y1="348.6" x2="772.2" y2="348.6" stroke="#333" stroke-width="1.3"/>
<line x1="769" y1="344.6" x2="772.2" y2="344.6" stroke="#333" stroke-width="1.3"/>
<line x1="769" y1="341" x2="772.2" y2="341" stroke="#333" stroke-width="1.3"/>
<line x1="769" y1="337.8" x2="775" y2="337.8" stroke="#333" stroke-width="1.3"/>
<line x1="769" y1="316.6" x2="772.2" y2="316.6" stroke="#333" stroke-width="1.3"/>
<line x1="769" y1="304.2" x2="772.2" y2="304.2" stroke="#333" stroke-width="1.3"/>
<line x1="769" y1="295.5" x2="772.2" y2="295.5" stroke="#333" stroke-width="1.3"/>
<line x1="769" y1="288.6" x2="772.2" y2="288.6" stroke="#333" stroke-width="1.3"/>
<line x1="769" y1="283.1" x2="772.2" y2="283.1" stroke="#333" stroke-width="1.3"/>
<line x1="769" y1="278.4" x2="772.2" y2="278.4" stroke="#333" stroke-width="1.3"/>
<line x1="769" y1="274.3" x2="772.2" y2="274.3" stroke="#333" stroke-width="1.3"/>
<line x1="769" y1="270.7" x2="772.2" y2="270.7" stroke="#333" stroke-width="1.3"/>
<line x1="769" y1="267.5" x2="775" y2="267.5" stroke="#333" stroke-width="1.3"/>
<rect x="769" y="267.5" width="470" height="210.5" fill="none" stroke="#3a3a3a" stroke-width="1.7"/>
<text x="735.8" y="485.9" font-size="17" fill="#222" stroke="#222" stroke-width="0.4">10</text>
<text x="754.8" y="475.4" font-size="10.5" fill="#222" stroke="#222" stroke-width="0.25">2</text>
<text x="735.8" y="415.6" font-size="17" fill="#222" stroke="#222" stroke-width="0.4">10</text>
<text x="754.8" y="405.2" font-size="10.5" fill="#222" stroke="#222" stroke-width="0.25">3</text>
<text x="735.8" y="345.4" font-size="17" fill="#222" stroke="#222" stroke-width="0.4">10</text>
<text x="754.8" y="334.9" font-size="10.5" fill="#222" stroke="#222" stroke-width="0.25">4</text>
<text x="735.8" y="275.1" font-size="17" fill="#222" stroke="#222" stroke-width="0.4">10</text>
<text x="754.8" y="264.7" font-size="10.5" fill="#222" stroke="#222" stroke-width="0.25">5</text>
<rect x="810" y="318.5" width="11.5" height="2.3" fill="#2a2878"/>
<text x="825.5" y="326.5" font-size="18" font-weight="normal" fill="#2a2878" stroke="#2a2878" stroke-width="1.0"><tspan font-size="18" dy="0">NS</tspan><tspan font-size="11.5" dy="7">2</tspan><tspan font-size="18" dy="-7">O</tspan><tspan font-size="11.5" dy="7">4</tspan><tspan font-size="18" dy="-7">C</tspan><tspan font-size="11.5" dy="7">2</tspan><tspan font-size="18" dy="-7">F</tspan><tspan font-size="11.5" dy="7">6</tspan><tspan font-size="10" dy="-16" dx="-5.5">-</tspan></text>
<rect x="1122.9" y="310" width="11.5" height="2.3" fill="#383838"/>
<text x="1138.4" y="318" font-size="18" font-weight="normal" fill="#383838" stroke="#383838" stroke-width="1.0"><tspan font-size="18" dy="0">Li</tspan><tspan font-size="10" dy="-9">-</tspan></text>
<rect x="1122.9" y="397" width="11.5" height="2.3" fill="#3636dc"/>
<text x="1138.4" y="405" font-size="18" font-weight="normal" fill="#3636dc" stroke="#3636dc" stroke-width="1.0"><tspan font-size="18" dy="0">CHO</tspan><tspan font-size="11.5" dy="7">2</tspan><tspan font-size="10" dy="-16" dx="-5.5">-</tspan></text>
<rect x="977" y="444.7" width="11.5" height="2.3" fill="#348036"/>
<text x="992.5" y="452.7" font-size="18" font-weight="normal" fill="#348036" stroke="#348036" stroke-width="1.0"><tspan font-size="18" dy="0">CO</tspan><tspan font-size="11.5" dy="7">3</tspan><tspan font-size="10" dy="-16" dx="-5.5">-</tspan></text>
<rect x="1122.9" y="463" width="11.5" height="2.3" fill="#e23ed8"/>
<text x="1138.4" y="471" font-size="18" font-weight="normal" fill="#e23ed8" stroke="#e23ed8" stroke-width="1.0"><tspan font-size="18" dy="0">C</tspan><tspan font-size="11.5" dy="7">2</tspan><tspan font-size="18" dy="-7">H</tspan><tspan font-size="11.5" dy="7">2</tspan><tspan font-size="18" dy="-7">O</tspan><tspan font-size="10" dy="-9">-</tspan></text>
<rect x="769" y="495" width="470" height="211" fill="#fbfbfb"/>
<rect x="772.5" y="495" width="15.8" height="211" fill="#fcd88c"/>
<rect x="788.3" y="495" width="225.1" height="211" fill="#c9c9f8"/>
<rect x="1013.4" y="495" width="99.1" height="211" fill="#eeaa7c"/>
<rect x="1112.5" y="495" width="126.5" height="211" fill="#e3e3e3"/>
<line x1="772.5" y1="706.2" x2="1239" y2="706.2" stroke="#555" stroke-opacity="0.42" stroke-width="1.5" stroke-dasharray="2.2 3.1"/>
<line x1="772.5" y1="635.8" x2="1239" y2="635.8" stroke="#555" stroke-opacity="0.42" stroke-width="1.5" stroke-dasharray="2.2 3.1"/>
<line x1="772.5" y1="565.4" x2="1239" y2="565.4" stroke="#555" stroke-opacity="0.42" stroke-width="1.5" stroke-dasharray="2.2 3.1"/>
<line x1="772.5" y1="495" x2="772.5" y2="706" stroke="#555" stroke-opacity="0.42" stroke-width="1.4" stroke-dasharray="2.2 3.1"/>
<line x1="865.6" y1="495" x2="865.6" y2="706" stroke="#555" stroke-opacity="0.42" stroke-width="1.4" stroke-dasharray="2.2 3.1"/>
<line x1="958.8" y1="495" x2="958.8" y2="706" stroke="#555" stroke-opacity="0.42" stroke-width="1.4" stroke-dasharray="2.2 3.1"/>
<line x1="1051.9" y1="495" x2="1051.9" y2="706" stroke="#555" stroke-opacity="0.42" stroke-width="1.4" stroke-dasharray="2.2 3.1"/>
<line x1="1145" y1="495" x2="1145" y2="706" stroke="#555" stroke-opacity="0.42" stroke-width="1.4" stroke-dasharray="2.2 3.1"/>
<path d="M771.5 668.4 L774.2 663.7 L777 659.7 L779.7 654.9 L782.4 651.4 L785.3 645.6 L788.1 640.9 L791 636.3 L793.9 632.8 L796.8 630.6 L799.7 627.4 L802.6 624.3 L805.5 621.5 L808.4 618.6 L811.1 616.6 L813.8 615.6 L816.5 613.1 L819.2 612 L821.9 610.1 L824.6 607.4 L827.3 605.9 L830 604.4 L832.7 603.6 L835.4 601.7 L838 601 L840.7 599.6 L843.4 598.9 L846.1 597.9 L848.7 596.5 L851.4 594.7 L854.1 594.2 L856.8 592.6 L859.4 591.9 L862.1 590.3 L864.8 589.7 L867.3 589.2 L869.9 588.3 L872.4 587.7 L874.9 587 L877.5 586.1 L880 585 L882.5 585.4 L885.1 584.1 L887.6 582.9 L890.1 582.8 L892.7 582.1 L895.2 581.2 L897.9 581.8 L900.5 580.5 L903.2 581.2 L905.8 580.4 L908.5 579.7 L911.1 579.6 L913.8 579.4 L916.4 578.7 L919.1 579.2 L921.7 578.7 L924.4 578.8 L927 578.3 L929.7 578 L932.3 577.9 L935 577.5 L937.7 577.2 L940.3 577.1 L943 577.2 L945.7 577.5 L948.3 577.7 L951 577.6 L953.7 577.7 L956.3 576.8 L959 577.3 L961.7 576.9 L964.3 577.6 L967 577.6 L969.5 578.1 L972 579.1 L974.5 578.9 L977 580 L979.5 580.4 L982 580.6 L984.5 582 L987 581.5 L989.5 582.6 L992.3 585.4 L995.1 588.3 L997.9 591.6 L1000.7 593.9 L1003.5 597.1 L1006.3 599.9 L1009.1 603.6 L1012 606.7 L1014.8 610.8 L1017.6 615.4 L1020.4 620.8 L1023.2 624.9 L1026 630.3 L1028.8 636.5 L1031.5 640.9 L1034.2 647.3 L1037 652.9 L1039.8 655.8 L1042.6 658.4 L1045.4 661.1 L1048.2 664.5 L1051 665.7 L1053.8 668.8 L1056.7 669.8 L1059.5 671.3 L1062.4 671.3 L1065.2 670.5 L1068.1 675 L1070.9 674 L1073.6 677.5 L1076.3 679.7 L1078.9 680 L1081.6 679.6 L1084.3 682.9 L1087 682.1 L1089.6 683.1 L1092.3 685.4 L1095 687.1 L1097.6 688 L1100.1 688.2 L1102.7 688.4 L1105.3 690.7 L1107.9 689.6 L1110.4 691.7 L1113 689.8 L1115.8 690.1 L1118.7 693.2 L1121.5 690 L1124.3 690.7 L1127.2 688.9 L1130 691.8 L1132.8 691.9 L1135.6 692.8 L1138.3 695.9 L1141.1 700.9 L1143.9 702.2 L1146.7 701 L1149.5 705.6 L1152.3 702.1 L1155.1 704.3 L1158 705 L1160.8 706.4 L1163.6 704 L1166.4 707.4 L1169.3 707 L1172.1 711 L1175 712" fill="none" stroke="#348036" stroke-width="2.3" stroke-linejoin="round" stroke-linecap="round" clip-path="url(#c12)"/>
<path d="M772 595.2 L775.3 592.9 L778.5 589.2 L781.8 587 L784.6 584.7 L787.4 583 L790.2 580.4 L793 578.8 L795.5 577.7 L798.1 578.1 L800.6 577.2 L803.2 576.6 L805.7 576.3 L808.3 576.2 L810.8 575.3 L813.4 575.2 L815.9 574.5 L818.5 574.2 L821 573.9 L823.6 573.6 L826.2 573.3 L828.9 573.4 L831.5 572.7 L834.1 572.8 L836.8 572.5 L839.4 572.1 L842 571.8 L844.6 571.1 L847.2 570.8 L849.9 570.7 L852.5 570 L855.1 569.2 L857.8 569.2 L860.4 568.9 L863 568.2 L865.5 567.8 L868.1 567.7 L870.6 567.9 L873.2 567.8 L875.7 567.4 L878.3 566.9 L880.8 566.2 L883.4 566 L885.9 566.4 L888.5 566 L891 565.7 L893.6 565.1 L896.2 564.8 L898.8 564.6 L901.4 564.3 L903.9 564.6 L906.5 564 L909.1 564 L911.7 563.7 L914.3 563.5 L916.9 563.5 L919.5 563.3 L922.1 562.4 L924.6 562.9 L927.2 562.6 L929.8 562.3 L932.4 561.7 L935 562 L937.6 561.6 L940.1 560.8 L942.7 561 L945.2 560.9 L947.8 560.6 L950.3 560.5 L952.9 559.9 L955.4 559.8 L958 559 L960.6 559.3 L963.1 558.6 L965.7 558.9 L968.2 558.9 L970.8 558.1 L973.3 557.6 L975.9 557.3 L978.4 557.6 L981 557 L983.5 556.9 L986.1 556.1 L988.6 555.4 L991.2 554.9 L993.7 553.8 L996.3 553.4 L998.8 552.4 L1001.4 552.3 L1003.9 551.9 L1006.5 550.6 L1009 550.5 L1011.8 549.9 L1014.6 548.4 L1017.4 547.4 L1020.2 546.6 L1023 546.3 L1025.5 545.3 L1028.1 545.8 L1030.6 545 L1033.2 545.3 L1035.7 545.2 L1038.3 544.9 L1040.8 544 L1043.4 544.1 L1045.9 543.6 L1048.5 543.9 L1051 543.1 L1053.6 542.8 L1056.2 542.9 L1058.8 542.4 L1061.4 542.4 L1063.9 542.7 L1066.5 542.1 L1069.1 541.8 L1071.7 542.4 L1074.3 541.6 L1076.9 541.9 L1079.5 541.7 L1082.1 541.4 L1084.6 541.3 L1087.2 541.1 L1089.8 541.2 L1092.4 540.9 L1095 540.3 L1097.6 540.9 L1100.1 540.9 L1102.7 541.5 L1105.3 540.9 L1107.9 541.5 L1110.4 542.2 L1113 541.5 L1115.5 542.2 L1118 542.4 L1120.6 542.2 L1123.1 541.7 L1125.6 542.5 L1128.1 542.1 L1130.6 542.4 L1133.2 542.8 L1135.7 542.4 L1138.2 542.4 L1140.7 542.3 L1143.2 542.6 L1145.8 542.4 L1148.3 543.1 L1150.8 543.3 L1153.3 542.6 L1155.8 543.2 L1158.4 543.5 L1160.9 543.5 L1163.4 543.1 L1165.9 543.4 L1168.4 543.7 L1171 543.6 L1173.5 544.1 L1176 544.1 L1178.5 544.2 L1181 543.5 L1183.6 543.4 L1186.1 544.1 L1188.6 544.1 L1191.1 543.9 L1193.6 543.9 L1196.2 544.6 L1198.7 544.6 L1201.2 543.9 L1203.7 544.1 L1206.2 544.8 L1208.8 544.6 L1211.3 544.4 L1213.8 545.2 L1216.3 544.7 L1218.8 544.5 L1221.4 544.9 L1223.9 545 L1226.4 545.3 L1228.9 545.5 L1231.4 544.9 L1234 545.3 L1236.5 545.8 L1239 545.5" fill="none" stroke="#383838" stroke-width="2.3" stroke-linejoin="round" stroke-linecap="round" clip-path="url(#c12)"/>
<path d="M772 605 L775.3 597.7 L778.5 590.6 L781.8 582.5 L784.6 578.3 L787.4 574.1 L790.2 568.9 L793 564.6 L795.5 563.7 L798.1 563 L800.6 561 L803.2 560.3 L805.7 560.5 L808.3 559.3 L810.8 557.7 L813.4 557.5 L815.9 555.8 L818.5 555.2 L821 554.4 L823.5 553.6 L826.1 553 L828.6 553 L831.2 552.7 L833.7 551.7 L836.3 551.7 L838.8 551.7 L841.4 549.9 L843.9 549.7 L846.5 548.9 L849 549.2 L851.5 548.7 L854.1 548.6 L856.6 548.2 L859.2 548.8 L861.7 548.7 L864.3 548.1 L866.8 548.5 L869.4 547.5 L871.9 547.6 L874.5 548.3 L877 547.1 L879.5 547.1 L882 547 L884.6 547.9 L887.1 548.2 L889.6 547.2 L892.1 547.9 L894.7 547.8 L897.2 547.8 L899.7 547.7 L902.2 548 L904.7 547.7 L907.3 548.9 L909.8 547.9 L912.3 548.5 L914.8 548.7 L917.3 548.8 L919.9 548.6 L922.4 548.7 L924.9 549.4 L927.4 548.3 L930 548.5 L932.5 548.7 L935 549.3 L937.6 548.7 L940.1 548.4 L942.7 547.8 L945.3 547.6 L947.9 548.1 L950.4 547.3 L953 547.4 L955.5 547.5 L958.1 548 L960.6 548.2 L963.2 549.6 L965.7 549.6 L968.3 549.8 L970.8 549.8 L973.4 551 L975.9 551 L978.5 550.8 L981 551.3 L983.5 553.4 L986.1 553.5 L988.6 554.7 L991.2 555.2 L993.7 557.4 L996.3 557.5 L998.8 559 L1001.4 560.2 L1003.9 561 L1006.5 561.8 L1009 562.7 L1011.8 566.1 L1014.6 568.3 L1017.4 571.6 L1020.2 574.8 L1023 577.6 L1025.5 578.8 L1028.1 580.2 L1030.6 581.1 L1033.2 583.5 L1035.7 585.2 L1038.3 585.9 L1040.8 587.1 L1043.4 589.3 L1045.9 590.6 L1048.5 592.8 L1051 594.2 L1053.6 594.4 L1056.2 595.2 L1058.8 595.7 L1061.4 596.7 L1063.9 597.3 L1066.5 598 L1069.1 598 L1071.7 599.5 L1074.3 599.1 L1076.9 600.1 L1079.5 601.1 L1082.1 601 L1084.6 602.5 L1087.2 602.8 L1089.8 603.5 L1092.4 603.8 L1095 604.8 L1097.6 605.9 L1100.1 606 L1102.7 607.9 L1105.3 608.9 L1107.9 609 L1110.4 609.9 L1113 611 L1115.5 611.2 L1118.1 611.6 L1120.6 611.7 L1123.2 612.2 L1125.7 612.3 L1128.3 612.3 L1130.8 613.7 L1133.4 613.9 L1135.9 613.3 L1138.5 614.8 L1141 615.5 L1143.5 615.1 L1146.1 616.1 L1148.6 615.5 L1151.2 616.5 L1153.7 617.1 L1156.3 617 L1158.8 617.2 L1161.4 617.3 L1163.9 618.3 L1166.5 618.3 L1169 619 L1171.5 619.5 L1174 619.2 L1176.5 619.8 L1179 619.6 L1181.5 620.7 L1184 621.1 L1186.5 620.8 L1189 621 L1191.5 621.9 L1194 621.9 L1196.5 622.7 L1199 622.9 L1201.5 622.8 L1204 623.1 L1206.5 623.6 L1209 623.9 L1211.5 624.1 L1214 624.5 L1216.5 624.5 L1219 625.3 L1221.5 625.3 L1224 625.1 L1226.5 626.1 L1229 626 L1231.5 626.3 L1234 626.9 L1236.5 627.6 L1239 627.4" fill="none" stroke="#e23ed8" stroke-width="2.3" stroke-linejoin="round" stroke-linecap="round" clip-path="url(#c12)"/>
<path d="M771.5 607.6 L775.8 607 L779.1 600.1 L782.4 594.7 L785.6 587 L788.9 580 L791.4 576.4 L793.9 573.5 L796.5 570.8 L799 567.7 L801.5 565.4 L804 562.5 L806.6 561 L809.2 558.9 L811.8 558.7 L814.4 556.9 L817 555.6 L819.6 554.3 L822.2 552.9 L824.8 552.1 L827.4 550 L830 548.6 L832.7 549 L835.4 547.6 L838 547 L840.7 546.6 L843.4 546.6 L846.1 545.4 L848.7 544.4 L851.4 544.1 L854.1 543.5 L856.8 542.7 L859.4 543.1 L862.1 542.4 L864.8 541.1 L867.3 540.8 L869.9 541.3 L872.4 540.6 L874.9 539.9 L877.5 539.7 L880 539.8 L882.5 538.6 L885.1 538.7 L887.6 537.5 L890.1 537.7 L892.7 537.1 L895.2 536.8 L897.9 536.8 L900.5 536.8 L903.2 537.4 L905.8 536.7 L908.5 536.3 L911.1 537.2 L913.8 537.3 L916.4 537.1 L919.1 536.5 L921.7 536.5 L924.4 537 L927 536.1 L929.7 536 L932.3 536.5 L935 536.2 L937.7 536.5 L940.3 536.1 L943 537.1 L945.7 536.5 L948.3 536.3 L951 536.3 L953.7 536.2 L956.3 536.8 L959 536.9 L961.7 536.8 L964.3 537 L967 536.6 L969.5 536.7 L972.1 537.1 L974.6 537.2 L977.2 537.8 L979.7 538.3 L982.3 539.1 L984.8 539.1 L987.4 538.9 L989.9 539.8 L992.5 539.9 L995 540.9 L997.8 541.7 L1000.6 542.3 L1003.4 543.2 L1006.2 543.8 L1009 544.4 L1011.5 546.2 L1014.1 547.3 L1016.6 548.2 L1019.2 549.8 L1021.7 550.8 L1024.3 551.8 L1026.8 552.2 L1029.4 554.4 L1031.9 554.5 L1034.5 555.8 L1037 556.8 L1039.5 557.8 L1042.1 559.3 L1044.6 560 L1047.2 560.4 L1049.7 561.4 L1052.3 562.9 L1054.8 563.3 L1057.4 564 L1059.9 565.6 L1062.5 565.8 L1065 566.5 L1067.5 567.5 L1070 568.2 L1072.5 567.8 L1075 569.1 L1077.5 569 L1080 570.3 L1082.5 570.3 L1085 570.6 L1087.5 571.1 L1090 571.2 L1092.5 571.7 L1095 572.7 L1097.6 573.5 L1100.1 573.9 L1102.7 574.7 L1105.3 575.9 L1107.9 577.3 L1110.4 577.1 L1113 578.6 L1115.5 579.2 L1118.1 578.7 L1120.6 579 L1123.2 579.5 L1125.7 579.4 L1128.3 579.4 L1130.8 579.8 L1133.4 580.9 L1135.9 580.6 L1138.5 581.4 L1141 580.8 L1143.5 581.8 L1146.1 581.4 L1148.6 581.8 L1151.2 582.5 L1153.7 583.1 L1156.3 583.3 L1158.8 583.3 L1161.4 582.8 L1163.9 583.7 L1166.5 584 L1169 583.7 L1171.5 584.4 L1174 584.5 L1176.5 585.3 L1179 585.7 L1181.5 586 L1184 585.7 L1186.5 585.9 L1189 586.5 L1191.5 587.1 L1194 587 L1196.5 588.1 L1199 588.5 L1201.5 588.8 L1204 588.9 L1206.5 589.8 L1209 589.5 L1211.5 589.8 L1214 590.7 L1216.5 590.8 L1219 591.1 L1221.5 591.3 L1224 591.3 L1226.5 591.8 L1229 592.3 L1231.5 593.1 L1234 593 L1236.5 593.2 L1239 593.8" fill="none" stroke="#3636dc" stroke-width="2.3" stroke-linejoin="round" stroke-linecap="round" clip-path="url(#c12)"/>
<path d="M771.5 567.5 L774.4 563.7 L777.3 561.5 L780.2 557.3 L782.8 555.4 L785.4 552.9 L788 550.2 L790.6 547.1 L793.2 544.5 L795.7 543.5 L798.3 542.4 L800.8 540.5 L803.3 538.9 L805.9 537.3 L808.4 535.9 L811 535.7 L813.5 534.7 L816.1 534.3 L818.7 533.8 L821.2 533.2 L823.8 531.9 L826.3 531.5 L828.9 531.5 L831.5 530.8 L834 530.5 L836.6 529 L839.2 529.4 L841.7 529.9 L844.3 530.4 L846.9 529.9 L849.4 530.8 L852 530.6 L854.5 530.7 L857.1 531.5 L859.7 530.8 L862.2 532 L864.8 531.5 L867.3 531.8 L869.9 531.9 L872.4 532.5 L874.9 533.2 L877.5 532.7 L880 533.4 L882.5 533.6 L885.1 533.7 L887.6 533.7 L890.1 534.7 L892.7 534.6 L895.2 535 L897.9 535.4 L900.5 535.1 L903.2 536.3 L905.8 536.7 L908.5 536.2 L911.1 537.2 L913.8 537.3 L916.4 537.2 L919.1 537.4 L921.7 537.5 L924.4 538.2 L927 538.5 L929.7 538.9 L932.3 539.2 L935 539.6 L937.7 539.2 L940.3 539.5 L943 540.1 L945.7 540.1 L948.3 539.9 L951 540.2 L953.7 541.2 L956.3 541.2 L959 541.3 L961.7 541 L964.3 541.2 L967 541.7 L969.5 541.9 L972.1 542.3 L974.6 541.9 L977.2 543 L979.7 542.7 L982.3 543.2 L984.8 543.8 L987.4 544.6 L989.9 544.3 L992.5 544.9 L995 544.7 L997.5 545.9 L1000 545.5 L1002.5 546.2 L1005 546.8 L1007.6 547.2 L1010.1 547.3 L1012.6 547.9 L1015.1 547.5 L1017.6 549.1 L1020.4 550 L1023.1 551.5 L1025.9 552.6 L1028.7 554.3 L1031.5 556 L1034.2 557.1 L1037 558.2 L1039.5 559.2 L1042.1 560.9 L1044.6 561 L1047.2 562.3 L1049.7 563.4 L1052.3 563.7 L1054.8 565.3 L1057.4 565.8 L1059.9 567.3 L1062.5 567.3 L1065 568.4 L1067.5 568.8 L1070 569.2 L1072.5 569.8 L1075 570.3 L1077.5 570.7 L1080 571.8 L1082.5 571.6 L1085 571.8 L1087.5 573.1 L1090 573.2 L1092.5 573.2 L1095 574.5 L1097.6 574.9 L1100.1 575.2 L1102.7 575.8 L1105.3 575.5 L1107.9 576.6 L1110.4 576.4 L1113 577.4 L1115.5 577.7 L1118.1 577.3 L1120.6 577.3 L1123.2 577.8 L1125.7 577.9 L1128.3 577.8 L1130.8 577.4 L1133.4 577.8 L1135.9 578.4 L1138.5 577.7 L1141 578.3 L1143.5 579 L1146.1 578.9 L1148.6 578.5 L1151.2 578.5 L1153.7 579.1 L1156.3 579.3 L1158.8 579 L1161.4 579.4 L1163.9 580.1 L1166.5 579.9 L1169 579.9 L1171.5 579.6 L1174 580.4 L1176.5 580.1 L1179 581.6 L1181.5 581.3 L1184 581.7 L1186.5 582.1 L1189 581.6 L1191.5 582.9 L1194 583 L1196.5 582.6 L1199 583.9 L1201.5 584.1 L1204 584.6 L1206.5 583.8 L1209 585.1 L1211.5 585.2 L1214 584.9 L1216.5 585 L1219 586 L1221.5 585.6 L1224 586.5 L1226.5 587.1 L1229 586.9 L1231.5 587.1 L1234 587.5 L1236.5 587.4 L1239 588.2" fill="none" stroke="#2a2878" stroke-width="2.3" stroke-linejoin="round" stroke-linecap="round" clip-path="url(#c12)"/>
<line x1="769" y1="685" x2="772.2" y2="685" stroke="#333" stroke-width="1.3"/>
<line x1="769" y1="672.6" x2="772.2" y2="672.6" stroke="#333" stroke-width="1.3"/>
<line x1="769" y1="663.8" x2="772.2" y2="663.8" stroke="#333" stroke-width="1.3"/>
<line x1="769" y1="657" x2="772.2" y2="657" stroke="#333" stroke-width="1.3"/>
<line x1="769" y1="651.4" x2="772.2" y2="651.4" stroke="#333" stroke-width="1.3"/>
<line x1="769" y1="646.7" x2="772.2" y2="646.7" stroke="#333" stroke-width="1.3"/>
<line x1="769" y1="642.6" x2="772.2" y2="642.6" stroke="#333" stroke-width="1.3"/>
<line x1="769" y1="639" x2="772.2" y2="639" stroke="#333" stroke-width="1.3"/>
<line x1="769" y1="635.8" x2="775" y2="635.8" stroke="#333" stroke-width="1.3"/>
<line x1="769" y1="614.6" x2="772.2" y2="614.6" stroke="#333" stroke-width="1.3"/>
<line x1="769" y1="602.2" x2="772.2" y2="602.2" stroke="#333" stroke-width="1.3"/>
<line x1="769" y1="593.4" x2="772.2" y2="593.4" stroke="#333" stroke-width="1.3"/>
<line x1="769" y1="586.6" x2="772.2" y2="586.6" stroke="#333" stroke-width="1.3"/>
<line x1="769" y1="581" x2="772.2" y2="581" stroke="#333" stroke-width="1.3"/>
<line x1="769" y1="576.3" x2="772.2" y2="576.3" stroke="#333" stroke-width="1.3"/>
<line x1="769" y1="572.2" x2="772.2" y2="572.2" stroke="#333" stroke-width="1.3"/>
<line x1="769" y1="568.6" x2="772.2" y2="568.6" stroke="#333" stroke-width="1.3"/>
<line x1="769" y1="565.4" x2="775" y2="565.4" stroke="#333" stroke-width="1.3"/>
<line x1="769" y1="544.2" x2="772.2" y2="544.2" stroke="#333" stroke-width="1.3"/>
<line x1="769" y1="531.8" x2="772.2" y2="531.8" stroke="#333" stroke-width="1.3"/>
<line x1="769" y1="523" x2="772.2" y2="523" stroke="#333" stroke-width="1.3"/>
<line x1="769" y1="516.2" x2="772.2" y2="516.2" stroke="#333" stroke-width="1.3"/>
<line x1="769" y1="510.6" x2="772.2" y2="510.6" stroke="#333" stroke-width="1.3"/>
<line x1="769" y1="505.9" x2="772.2" y2="505.9" stroke="#333" stroke-width="1.3"/>
<line x1="769" y1="501.8" x2="772.2" y2="501.8" stroke="#333" stroke-width="1.3"/>
<line x1="769" y1="498.2" x2="772.2" y2="498.2" stroke="#333" stroke-width="1.3"/>
<line x1="769" y1="495" x2="775" y2="495" stroke="#333" stroke-width="1.3"/>
<rect x="769" y="495" width="470" height="211" fill="none" stroke="#3a3a3a" stroke-width="1.7"/>
<text x="735.8" y="713.8" font-size="17" fill="#222" stroke="#222" stroke-width="0.4">10</text>
<text x="754.8" y="703.4" font-size="10.5" fill="#222" stroke="#222" stroke-width="0.25">2</text>
<text x="735.8" y="643.4" font-size="17" fill="#222" stroke="#222" stroke-width="0.4">10</text>
<text x="754.8" y="633" font-size="10.5" fill="#222" stroke="#222" stroke-width="0.25">3</text>
<text x="735.8" y="573" font-size="17" fill="#222" stroke="#222" stroke-width="0.4">10</text>
<text x="754.8" y="562.6" font-size="10.5" fill="#222" stroke="#222" stroke-width="0.25">4</text>
<text x="735.8" y="502.6" font-size="17" fill="#222" stroke="#222" stroke-width="0.4">10</text>
<text x="754.8" y="492.2" font-size="10.5" fill="#222" stroke="#222" stroke-width="0.25">5</text>
<rect x="810" y="508.6" width="11.5" height="2.3" fill="#2a2878"/>
<text x="825.5" y="516.6" font-size="18" font-weight="normal" fill="#2a2878" stroke="#2a2878" stroke-width="1.0"><tspan font-size="18" dy="0">NS</tspan><tspan font-size="11.5" dy="7">2</tspan><tspan font-size="18" dy="-7">O</tspan><tspan font-size="11.5" dy="7">4</tspan><tspan font-size="18" dy="-7">C</tspan><tspan font-size="11.5" dy="7">2</tspan><tspan font-size="18" dy="-7">F</tspan><tspan font-size="11.5" dy="7">6</tspan><tspan font-size="10" dy="-16" dx="-5.5">-</tspan></text>
<rect x="1122.9" y="518.5" width="11.5" height="2.3" fill="#383838"/>
<text x="1138.4" y="526.5" font-size="18" font-weight="normal" fill="#383838" stroke="#383838" stroke-width="1.0"><tspan font-size="18" dy="0">Li</tspan><tspan font-size="10" dy="-9">-</tspan></text>
<rect x="1122.9" y="563.3" width="11.5" height="2.3" fill="#3636dc"/>
<text x="1138.4" y="571.3" font-size="18" font-weight="normal" fill="#3636dc" stroke="#3636dc" stroke-width="1.0"><tspan font-size="18" dy="0">CHO</tspan><tspan font-size="11.5" dy="7">2</tspan><tspan font-size="10" dy="-16" dx="-5.5">-</tspan></text>
<rect x="977" y="633.5" width="11.5" height="2.3" fill="#348036"/>
<text x="992.5" y="641.5" font-size="18" font-weight="normal" fill="#348036" stroke="#348036" stroke-width="1.0"><tspan font-size="18" dy="0">CO</tspan><tspan font-size="11.5" dy="7">3</tspan><tspan font-size="10" dy="-16" dx="-5.5">-</tspan></text>
<rect x="1122.9" y="633.5" width="11.5" height="2.3" fill="#e23ed8"/>
<text x="1138.4" y="641.5" font-size="18" font-weight="normal" fill="#e23ed8" stroke="#e23ed8" stroke-width="1.0"><tspan font-size="18" dy="0">C</tspan><tspan font-size="11.5" dy="7">2</tspan><tspan font-size="18" dy="-7">H</tspan><tspan font-size="11.5" dy="7">2</tspan><tspan font-size="18" dy="-7">O</tspan><tspan font-size="10" dy="-9">-</tspan></text>
<circle cx="579.4" cy="39.7" r="10.9" fill="none" stroke="#333" stroke-width="1.7"/>
<text x="579.4" y="45.7" font-size="21" text-anchor="middle" fill="#222" stroke="#222" stroke-width="0.15">a</text>
<circle cx="579.3" cy="267.5" r="10.9" fill="none" stroke="#333" stroke-width="1.7"/>
<text x="579.3" y="273.5" font-size="21" text-anchor="middle" fill="#222" stroke="#222" stroke-width="0.15">b</text>
<circle cx="579.4" cy="495" r="10.9" fill="none" stroke="#333" stroke-width="1.7"/>
<text x="579.4" y="501" font-size="21" text-anchor="middle" fill="#222" stroke="#222" stroke-width="0.15">c</text>
<circle cx="1255.9" cy="39.2" r="10.9" fill="none" stroke="#333" stroke-width="1.7"/>
<text x="1255.9" y="45.2" font-size="21" text-anchor="middle" fill="#222" stroke="#222" stroke-width="0.15">d</text>
<circle cx="1255.9" cy="267.4" r="10.9" fill="none" stroke="#333" stroke-width="1.7"/>
<text x="1255.9" y="273.4" font-size="21" text-anchor="middle" fill="#222" stroke="#222" stroke-width="0.15">e</text>
<circle cx="1255.9" cy="495.2" r="10.9" fill="none" stroke="#333" stroke-width="1.7"/>
<text x="1255.9" y="501.2" font-size="21" text-anchor="middle" fill="#222" stroke="#222" stroke-width="0.15">f</text>
<text transform="translate(601,199) rotate(-90)" font-size="20" fill="#222" stroke="#222" stroke-width="0.45">5 minutes</text>
<text transform="translate(601,427.5) rotate(-90)" font-size="20" fill="#222" stroke="#222" stroke-width="0.45">2 hours</text>
<text transform="translate(601,656) rotate(-90)" font-size="20" fill="#222" stroke="#222" stroke-width="0.45">24 hours</text>
<text transform="translate(1278,198) rotate(-90)" font-size="20" fill="#222" stroke="#222" stroke-width="0.45">5 minutes</text>
<text transform="translate(1278,427.7) rotate(-90)" font-size="20" fill="#222" stroke="#222" stroke-width="0.45">2 hours</text>
<text transform="translate(1278,656) rotate(-90)" font-size="20" fill="#222" stroke="#222" stroke-width="0.45">24 hours</text>
<text transform="translate(28.7,197) rotate(-90)" font-size="20" fill="#222" stroke="#222" stroke-width="0.4"><tspan font-style="italic">I</tspan> / counts · s<tspan font-size="11.5" dy="-10">-1</tspan></text>
<text transform="translate(704,197) rotate(-90)" font-size="20" fill="#222" stroke="#222" stroke-width="0.4"><tspan font-style="italic">I</tspan> / counts · s<tspan font-size="11.5" dy="-10">-1</tspan></text>
<text transform="translate(28.7,424) rotate(-90)" font-size="20" fill="#222" stroke="#222" stroke-width="0.4"><tspan font-style="italic">I</tspan> / counts · s<tspan font-size="11.5" dy="-10">-1</tspan></text>
<text transform="translate(704,424) rotate(-90)" font-size="20" fill="#222" stroke="#222" stroke-width="0.4"><tspan font-style="italic">I</tspan> / counts · s<tspan font-size="11.5" dy="-10">-1</tspan></text>
<text transform="translate(28.7,657) rotate(-90)" font-size="20" fill="#222" stroke="#222" stroke-width="0.4"><tspan font-style="italic">I</tspan> / counts · s<tspan font-size="11.5" dy="-10">-1</tspan></text>
<text transform="translate(704,657) rotate(-90)" font-size="20" fill="#222" stroke="#222" stroke-width="0.4"><tspan font-style="italic">I</tspan> / counts · s<tspan font-size="11.5" dy="-10">-1</tspan></text>
<line x1="93" y1="724" x2="563" y2="724" stroke="#444" stroke-width="2"/>
<line x1="98.5" y1="724" x2="98.5" y2="717" stroke="#444" stroke-width="1.4"/>
<text x="98.5" y="745.5" font-size="17" text-anchor="middle" fill="#222" stroke="#222" stroke-width="0.4">0</text>
<line x1="137.2" y1="724" x2="137.2" y2="720.5" stroke="#444" stroke-width="1.4"/>
<line x1="176" y1="724" x2="176" y2="717" stroke="#444" stroke-width="1.4"/>
<text x="176" y="745.5" font-size="17" text-anchor="middle" fill="#222" stroke="#222" stroke-width="0.4">25</text>
<line x1="214.8" y1="724" x2="214.8" y2="720.5" stroke="#444" stroke-width="1.4"/>
<line x1="253.5" y1="724" x2="253.5" y2="717" stroke="#444" stroke-width="1.4"/>
<text x="253.5" y="745.5" font-size="17" text-anchor="middle" fill="#222" stroke="#222" stroke-width="0.4">50</text>
<line x1="292.2" y1="724" x2="292.2" y2="720.5" stroke="#444" stroke-width="1.4"/>
<line x1="331" y1="724" x2="331" y2="717" stroke="#444" stroke-width="1.4"/>
<text x="331" y="745.5" font-size="17" text-anchor="middle" fill="#222" stroke="#222" stroke-width="0.4">75</text>
<line x1="369.8" y1="724" x2="369.8" y2="720.5" stroke="#444" stroke-width="1.4"/>
<line x1="408.5" y1="724" x2="408.5" y2="717" stroke="#444" stroke-width="1.4"/>
<text x="408.5" y="745.5" font-size="17" text-anchor="middle" fill="#222" stroke="#222" stroke-width="0.4">100</text>
<line x1="447.2" y1="724" x2="447.2" y2="720.5" stroke="#444" stroke-width="1.4"/>
<line x1="486" y1="724" x2="486" y2="717" stroke="#444" stroke-width="1.4"/>
<text x="486" y="745.5" font-size="17" text-anchor="middle" fill="#222" stroke="#222" stroke-width="0.4">125</text>
<line x1="524.8" y1="724" x2="524.8" y2="720.5" stroke="#444" stroke-width="1.4"/>
<line x1="563.5" y1="724" x2="563.5" y2="717" stroke="#444" stroke-width="1.4"/>
<text x="563.5" y="745.5" font-size="17" text-anchor="middle" fill="#222" stroke="#222" stroke-width="0.4">150</text>
<line x1="769" y1="724" x2="1240" y2="724" stroke="#444" stroke-width="2"/>
<line x1="772.5" y1="724" x2="772.5" y2="717" stroke="#444" stroke-width="1.4"/>
<text x="772.5" y="745.5" font-size="17" text-anchor="middle" fill="#222" stroke="#222" stroke-width="0.4">0</text>
<line x1="819.1" y1="724" x2="819.1" y2="720.5" stroke="#444" stroke-width="1.4"/>
<line x1="865.6" y1="724" x2="865.6" y2="717" stroke="#444" stroke-width="1.4"/>
<text x="865.6" y="745.5" font-size="17" text-anchor="middle" fill="#222" stroke="#222" stroke-width="0.4">50</text>
<line x1="912.2" y1="724" x2="912.2" y2="720.5" stroke="#444" stroke-width="1.4"/>
<line x1="958.8" y1="724" x2="958.8" y2="717" stroke="#444" stroke-width="1.4"/>
<text x="958.8" y="745.5" font-size="17" text-anchor="middle" fill="#222" stroke="#222" stroke-width="0.4">100</text>
<line x1="1005.3" y1="724" x2="1005.3" y2="720.5" stroke="#444" stroke-width="1.4"/>
<line x1="1051.9" y1="724" x2="1051.9" y2="717" stroke="#444" stroke-width="1.4"/>
<text x="1051.9" y="745.5" font-size="17" text-anchor="middle" fill="#222" stroke="#222" stroke-width="0.4">150</text>
<line x1="1098.4" y1="724" x2="1098.4" y2="720.5" stroke="#444" stroke-width="1.4"/>
<line x1="1145" y1="724" x2="1145" y2="717" stroke="#444" stroke-width="1.4"/>
<text x="1145" y="745.5" font-size="17" text-anchor="middle" fill="#222" stroke="#222" stroke-width="0.4">200</text>
<line x1="1191.6" y1="724" x2="1191.6" y2="720.5" stroke="#444" stroke-width="1.4"/>
<line x1="1238.1" y1="724" x2="1238.1" y2="717" stroke="#444" stroke-width="1.4"/>
<text x="1238.1" y="745.5" font-size="17" text-anchor="middle" fill="#222" stroke="#222" stroke-width="0.4">250</text>
<text x="252.8" y="771" font-size="20" fill="#222" stroke="#222" stroke-width="0.4"><tspan font-style="italic">x</tspan><tspan font-size="12" dy="8">sputter</tspan><tspan dy="-8"> / arb. unit</tspan></text>
<text x="927.4" y="771" font-size="20" fill="#222" stroke="#222" stroke-width="0.4"><tspan font-style="italic">x</tspan><tspan font-size="12" dy="8">sputter</tspan><tspan dy="-8"> / arb. unit</tspan></text>
</svg></body></html>
